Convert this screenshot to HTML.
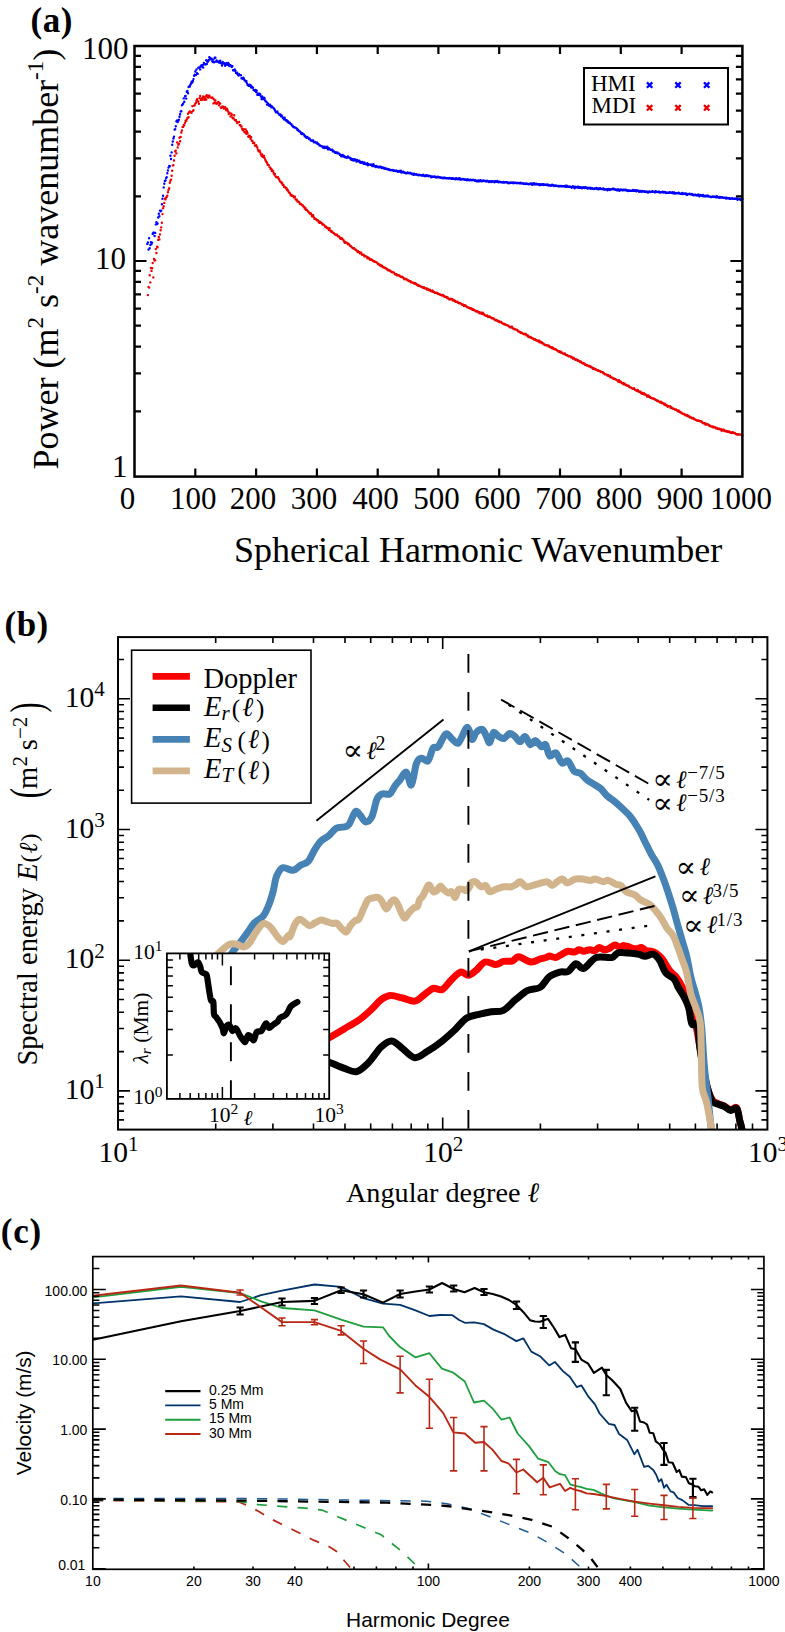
<!DOCTYPE html>
<html><head><meta charset="utf-8"><title>Figure</title>
<style>html,body{margin:0;padding:0;background:#fff;}svg{display:block;}</style></head>
<body><svg width="785" height="1632" viewBox="0 0 785 1632">
<rect width="785" height="1632" fill="#fff"/>
<text x="30.5" y="31.8" font-family="'Liberation Serif', 'DejaVu Serif', serif" font-weight="bold" font-size="35" letter-spacing="0.5">(a)</text>
<path d="M147.3 243.9h0.01M147.9 242.4h0.01M148.5 249.6h0.01M149.1 238.3h0.01M149.7 248.3h0.01M150.3 245.1h0.01M150.9 242.2h0.01M151.5 244.1h0.01M152.1 242.6h0.01M152.7 233.9h0.01M153.3 232.8h0.01M154 232.7h0.01M154.6 236h0.01M155.2 232.9h0.01M155.8 224.4h0.01M156.4 222.2h0.01M157 224.1h0.01M157.6 223.5h0.01M158.2 217.5h0.01M158.8 213.8h0.01M159.4 216.2h0.01M160 210.6h0.01M160.6 211.2h0.01M161.2 210.7h0.01M161.9 204.2h0.01M162.5 198.7h0.01M163.1 195.8h0.01M163.7 187.4h0.01M164.3 183.7h0.01M164.9 181h0.01M165.5 180.4h0.01M166.1 178.1h0.01M166.7 177.3h0.01M167.3 173.2h0.01M167.9 170.4h0.01M168.5 167.6h0.01M169.2 165.9h0.01M169.8 166.2h0.01M170.4 155.8h0.01M171 159h0.01M171.6 152.4h0.01M172.2 144.7h0.01M172.8 141.5h0.01M173.4 138.5h0.01M174 136.7h0.01M174.6 129.6h0.01M175.2 129.2h0.01M175.8 126.3h0.01M176.4 121.2h0.01M177.1 120.5h0.01M177.7 122.1h0.01M178.3 120.7h0.01M178.9 119.8h0.01M179.5 116.8h0.01M180.1 114.3h0.01M180.7 111.5h0.01M181.3 111.2h0.01M181.9 105.3h0.01M182.5 104.6h0.01M183.1 103.7h0.01M183.7 98.4h0.01M184.3 101.8h0.01M185 96.2h0.01M185.6 95.9h0.01M186.2 98.6h0.01M186.8 91.8h0.01M187.4 90.9h0.01M188 93.3h0.01M188.6 87h0.01M189.2 86.5h0.01M189.8 86.6h0.01M190.4 84.8h0.01M191 83.4h0.01M191.6 81.7h0.01M192.3 82.5h0.01M192.9 80.9h0.01M193.5 79.1h0.01M194.1 75.8h0.01M194.7 74.7h0.01M195.3 71.5h0.01M195.9 75.1h0.01M196.5 69.5h0.01M197.1 73.3h0.01M197.7 73.9h0.01M198.3 67.6h0.01M198.9 67.7h0.01M199.5 67.5h0.01M200.2 69.4h0.01M200.8 65.8h0.01M201.4 66.6h0.01M202 65.3h0.01M202.6 65.3h0.01M203.2 67.5h0.01M203.8 62.9h0.01M204.4 64.3h0.01M205 64.1h0.01M205.6 64.6h0.01M206.2 60.2h0.01M206.8 63.9h0.01M207.4 61.8h0.01M208.1 61.6h0.01M208.7 60h0.01M209.3 57.3h0.01M209.9 57.8h0.01M210.5 59.3h0.01M211.1 58.6h0.01M211.7 58.8h0.01M212.3 61.3h0.01M212.9 62h0.01M213.5 59.6h0.01M214.1 62.2h0.01M214.7 57.7h0.01M215.4 57.8h0.01M216 61.6h0.01M216.6 60.4h0.01M217.2 61.7h0.01M217.8 61.8h0.01M218.4 61.4h0.01M219 62.6h0.01M219.6 62.3h0.01M220.2 60.6h0.01M220.8 63h0.01M221.4 63.3h0.01M222 65.5h0.01M222.6 62h0.01M223.3 63.5h0.01M223.9 63h0.01M224.5 63.5h0.01M225.1 65.7h0.01M225.7 64.2h0.01M226.3 63.3h0.01M226.9 64.1h0.01M227.5 64.9h0.01M228.1 62.9h0.01M228.7 63.8h0.01M229.3 66.1h0.01M229.9 65.3h0.01M230.5 65.1h0.01M231.2 65.6h0.01M231.8 67h0.01M232.4 66.3h0.01M233 70.3h0.01M233.6 70.3h0.01M234.2 70.6h0.01M234.8 69.5h0.01M235.4 70.8h0.01M236 72.9h0.01M236.6 73.2h0.01M237.2 72.8h0.01M237.8 74.6h0.01M238.5 75.6h0.01M239.1 74.2h0.01M239.7 74.9h0.01M240.3 75.1h0.01M240.9 75.2h0.01M241.5 78.2h0.01M242.1 78.4h0.01M242.7 78.8h0.01M243.3 77.7h0.01M243.9 78.4h0.01M244.5 80.2h0.01M245.1 80.4h0.01M245.7 81.6h0.01M246.4 81.1h0.01M247 83.3h0.01M247.6 85.1h0.01M248.2 85.3h0.01M248.8 85.9h0.01M249.4 84.6h0.01M250 86.1h0.01M250.6 85.2h0.01M251.2 87.5h0.01M251.8 86.6h0.01M252.4 87.2h0.01M253 87.7h0.01M253.6 90h0.01M254.3 90.2h0.01M254.9 90.8h0.01M255.5 89.9h0.01M256.1 92h0.01M256.7 90.7h0.01M257.3 94.8h0.01M257.9 93.5h0.01M258.5 94.5h0.01M259.1 94.7h0.01M259.7 93.6h0.01M260.3 94.4h0.01M260.9 96.6h0.01M261.6 99h0.01M262.2 96.5h0.01M262.8 97.6h0.01M263.4 99h0.01M264 97.7h0.01M264.6 98.3h0.01M265.2 100.4h0.01M265.8 101.5h0.01M266.4 101.6h0.01M267 104.6h0.01M267.6 103.1h0.01M268.2 104h0.01M268.8 105.3h0.01M269.5 105.9h0.01M270.1 104.6h0.01M270.7 105.9h0.01M271.3 107.3h0.01M271.9 106.4h0.01M272.5 107.2h0.01M273.1 107.6h0.01M273.7 108.2h0.01M274.3 108.9h0.01M274.9 110.2h0.01M275.5 111.4h0.01M276.1 112.2h0.01M276.7 112h0.01M277.4 111.5h0.01M278 113.1h0.01M278.6 113.6h0.01M279.2 114.6h0.01M279.8 114.9h0.01M280.4 114.5h0.01M281 116.2h0.01M281.6 115.4h0.01M282.2 116.6h0.01M282.8 117.7h0.01M283.4 118.2h0.01M284 119.4h0.01M284.7 117.7h0.01M285.3 119.7h0.01M285.9 120.4h0.01M286.5 120.3h0.01M287.1 121.4h0.01M287.7 120.9h0.01M288.3 122.4h0.01M288.9 122.8h0.01M289.5 122.5h0.01M290.1 123.2h0.01M290.7 123.9h0.01M291.3 124.2h0.01M291.9 125.6h0.01M292.6 125.6h0.01M293.2 126.8h0.01M293.8 127.2h0.01M294.4 127.1h0.01M295 127.5h0.01M295.6 127.6h0.01M296.2 128.1h0.01M296.8 128.7h0.01M297.4 129.8h0.01M298 129.6h0.01M298.6 130.7h0.01M299.2 131.2h0.01M299.8 131.4h0.01M300.5 132.1h0.01M301.1 133.4h0.01M301.7 134h0.01M302.3 133.1h0.01M302.9 133.9h0.01M303.5 134.2h0.01M304.1 134.8h0.01M304.7 136.2h0.01M305.3 136.2h0.01M305.9 137h0.01M306.5 137.7h0.01M307.1 136.9h0.01M307.8 137.5h0.01M308.4 138h0.01M309 139h0.01M309.6 138.8h0.01M310.2 139.6h0.01M310.8 140.3h0.01M311.4 140.7h0.01M312 140.7h0.01M312.6 140.4h0.01M313.2 140.4h0.01M313.8 142.3h0.01M314.4 142.3h0.01M315 141.9h0.01M315.7 142.5h0.01M316.3 142.8h0.01M316.9 142.5h0.01M317.5 143.9h0.01M318.1 143.7h0.01M318.7 144.3h0.01M319.3 145.3h0.01M319.9 145.2h0.01M320.5 145.9h0.01M321.1 146.1h0.01M321.7 146.2h0.01M322.3 146.4h0.01M322.9 147.6h0.01M323.6 146.7h0.01M324.2 148h0.01M324.8 146.8h0.01M325.4 147.9h0.01M326 147.9h0.01M326.6 147.6h0.01M327.2 146.8h0.01M327.8 149.3h0.01M328.4 148h0.01M329 148.4h0.01M329.6 149.2h0.01M330.2 149.4h0.01M330.9 149.9h0.01M331.5 149.9h0.01M332.1 149.6h0.01M332.7 151.2h0.01M333.3 150.6h0.01M333.9 151.5h0.01M334.5 152.1h0.01M335.1 152.7h0.01M335.7 152.3h0.01M336.3 152.6h0.01M336.9 153h0.01M337.5 152.4h0.01M338.1 153.4h0.01M338.8 153.6h0.01M339.4 153.8h0.01M340 154.9h0.01M340.6 154.9h0.01M341.2 156.2h0.01M341.8 156.4h0.01M342.4 154.9h0.01M343 156.2h0.01M343.6 155.8h0.01M344.2 156.8h0.01M344.8 156.8h0.01M345.4 157.4h0.01M346 157.3h0.01M346.7 157.7h0.01M347.3 157.4h0.01M347.9 156.4h0.01M348.5 157.3h0.01M349.1 157.7h0.01M349.7 158.1h0.01M350.3 158h0.01M350.9 159.6h0.01M351.5 158.9h0.01M352.1 159.9h0.01M352.7 159.2h0.01M353.3 160.5h0.01M354 159.1h0.01M354.6 160.3h0.01M355.2 159.4h0.01M355.8 160.6h0.01M356.4 161.5h0.01M357 159.9h0.01M357.6 160.5h0.01M358.2 161.3h0.01M358.8 161.3h0.01M359.4 160.8h0.01M360 162.4h0.01M360.6 162h0.01M361.2 162.9h0.01M361.9 162.6h0.01M362.5 162h0.01M363.1 162.6h0.01M363.7 163.8h0.01M364.3 162.5h0.01M364.9 163.2h0.01M365.5 163.9h0.01M366.1 164.3h0.01M366.7 164.3h0.01M367.3 163.2h0.01M367.9 165.3h0.01M368.5 164.2h0.01M369.1 164.5h0.01M369.8 164.6h0.01M370.4 164.7h0.01M371 164.4h0.01M371.6 164.9h0.01M372.2 166h0.01M372.8 164.6h0.01M373.4 164.2h0.01M374 166h0.01M374.6 166h0.01M375.2 166.4h0.01M375.8 167.1h0.01M376.4 165.9h0.01M377.1 166.5h0.01M377.7 166.8h0.01M378.3 167.2h0.01M378.9 167.3h0.01M379.5 166.8h0.01M380.1 166.7h0.01M380.7 167.3h0.01M381.3 166.9h0.01M381.9 168.1h0.01M382.5 167.7h0.01M383.1 167.8h0.01M383.7 167.8h0.01M384.3 168.8h0.01M385 168.5h0.01M385.6 168.4h0.01M386.2 168.9h0.01M386.8 168.8h0.01M387.4 169.2h0.01M388 169.6h0.01M388.6 169.2h0.01M389.2 169.7h0.01M389.8 169.8h0.01M390.4 170.2h0.01M391 170.1h0.01M391.6 170.1h0.01M392.2 170h0.01M392.9 170.5h0.01M393.5 170.1h0.01M394.1 170.9h0.01M394.7 170.8h0.01M395.3 171h0.01M395.9 170.8h0.01M396.5 170.8h0.01M397.1 170.9h0.01M397.7 171.7h0.01M398.3 171.3h0.01M398.9 171.5h0.01M399.5 171h0.01M400.2 171.7h0.01M400.8 170.7h0.01M401.4 172.5h0.01M402 172h0.01M402.6 172.2h0.01M403.2 171.8h0.01M403.8 172.1h0.01M404.4 172.8h0.01M405 172.6h0.01M405.6 172.9h0.01M406.2 173.4h0.01M406.8 173.3h0.01M407.4 172.5h0.01M408.1 172.9h0.01M408.7 173h0.01M409.3 173.2h0.01M409.9 172.9h0.01M410.5 173h0.01M411.1 173.6h0.01M411.7 173.7h0.01M412.3 174.2h0.01M412.9 174h0.01M413.5 174.7h0.01M414.1 173.6h0.01M414.7 173.9h0.01M415.3 174.5h0.01M416 174.4h0.01M416.6 174.2h0.01M417.2 174.9h0.01M417.8 175.1h0.01M418.4 175.3h0.01M419 174.7h0.01M419.6 174.9h0.01M420.2 175.1h0.01M420.8 175.1h0.01M421.4 175.5h0.01M422 175.1h0.01M422.6 175.5h0.01M423.3 174.6h0.01M423.9 175.7h0.01M424.5 176.1h0.01M425.1 175.6h0.01M425.7 176.1h0.01M426.3 175.2h0.01M426.9 175.7h0.01M427.5 175.4h0.01M428.1 176.1h0.01M428.7 176.3h0.01M429.3 175.7h0.01M429.9 175.9h0.01M430.5 176.1h0.01M431.2 177.2h0.01M431.8 176.4h0.01M432.4 176.6h0.01M433 176.7h0.01M433.6 176.8h0.01M434.2 176.7h0.01M434.8 176.4h0.01M435.4 176.7h0.01M436 177.6h0.01M436.6 177.2h0.01M437.2 177h0.01M437.8 176.8h0.01M438.4 177.3h0.01M439.1 177.4h0.01M439.7 177.2h0.01M440.3 177.8h0.01M440.9 177.4h0.01M441.5 177.6h0.01M442.1 178h0.01M442.7 177.8h0.01M443.3 178.2h0.01M443.9 177.7h0.01M444.5 177.7h0.01M445.1 178.1h0.01M445.7 178h0.01M446.4 178.4h0.01M447 178.2h0.01M447.6 178.1h0.01M448.2 178.3h0.01M448.8 178.5h0.01M449.4 177.9h0.01M450 178.3h0.01M450.6 178.3h0.01M451.2 178.8h0.01M451.8 178.3h0.01M452.4 178.9h0.01M453 178.1h0.01M453.6 178.6h0.01M454.3 179h0.01M454.9 178.6h0.01M455.5 179.2h0.01M456.1 178.1h0.01M456.7 178.9h0.01M457.3 179h0.01M457.9 178.9h0.01M458.5 178.5h0.01M459.1 179.3h0.01M459.7 178.3h0.01M460.3 179.5h0.01M460.9 179.3h0.01M461.6 179.6h0.01M462.2 179.2h0.01M462.8 179h0.01M463.4 179.2h0.01M464 179.3h0.01M464.6 179.7h0.01M465.2 179.5h0.01M465.8 179.8h0.01M466.4 179.8h0.01M467 180.2h0.01M467.6 179.1h0.01M468.2 179.7h0.01M468.8 180.1h0.01M469.5 180.2h0.01M470.1 179.8h0.01M470.7 179.9h0.01M471.3 180h0.01M471.9 180.2h0.01M472.5 180h0.01M473.1 180h0.01M473.7 179.9h0.01M474.3 180.2h0.01M474.9 180.8h0.01M475.5 180.1h0.01M476.1 180.8h0.01M476.7 181.2h0.01M477.4 180.6h0.01M478 181.4h0.01M478.6 180.5h0.01M479.2 181.2h0.01M479.8 180.7h0.01M480.4 180.3h0.01M481 180.9h0.01M481.6 181.4h0.01M482.2 180.6h0.01M482.8 181h0.01M483.4 180.5h0.01M484 180.6h0.01M484.7 181.1h0.01M485.3 180.9h0.01M485.9 181.2h0.01M486.5 181.5h0.01M487.1 180.7h0.01M487.7 180.9h0.01M488.3 181.2h0.01M488.9 182h0.01M489.5 181.2h0.01M490.1 181.1h0.01M490.7 181.5h0.01M491.3 182.1h0.01M491.9 181.2h0.01M492.6 181.4h0.01M493.2 181.5h0.01M493.8 181.8h0.01M494.4 182.3h0.01M495 181.2h0.01M495.6 181.1h0.01M496.2 181.8h0.01M496.8 181.9h0.01M497.4 181h0.01M498 181.6h0.01M498.6 182.2h0.01M499.2 181.7h0.01M499.8 182.1h0.01M500.5 182h0.01M501.1 182.2h0.01M501.7 182.2h0.01M502.3 182.2h0.01M502.9 182.6h0.01M503.5 182h0.01M504.1 182.2h0.01M504.7 182.6h0.01M505.3 182.1h0.01M505.9 182.2h0.01M506.5 182.1h0.01M507.1 182.1h0.01M507.8 183.1h0.01M508.4 182.6h0.01M509 183.2h0.01M509.6 182.8h0.01M510.2 182.6h0.01M510.8 182.5h0.01M511.4 182.7h0.01M512 182.7h0.01M512.6 183h0.01M513.2 182.5h0.01M513.8 182.9h0.01M514.4 183h0.01M515 182.8h0.01M515.7 182.8h0.01M516.3 183.1h0.01M516.9 183.2h0.01M517.5 183h0.01M518.1 183.1h0.01M518.7 182.9h0.01M519.3 183.3h0.01M519.9 183.1h0.01M520.5 182.7h0.01M521.1 183.2h0.01M521.7 183.5h0.01M522.3 183.4h0.01M522.9 183.1h0.01M523.6 183.7h0.01M524.2 183.7h0.01M524.8 183.7h0.01M525.4 184.1h0.01M526 183.5h0.01M526.6 183.8h0.01M527.2 183.6h0.01M527.8 184.1h0.01M528.4 184.2h0.01M529 184h0.01M529.6 184.1h0.01M530.2 183.6h0.01M530.9 184.1h0.01M531.5 183.5h0.01M532.1 184.7h0.01M532.7 184.4h0.01M533.3 183.5h0.01M533.9 183.2h0.01M534.5 184.6h0.01M535.1 183.9h0.01M535.7 184.4h0.01M536.3 183.8h0.01M536.9 184.3h0.01M537.5 184.1h0.01M538.1 184.6h0.01M538.8 184.3h0.01M539.4 185h0.01M540 184.2h0.01M540.6 185h0.01M541.2 184.6h0.01M541.8 184.8h0.01M542.4 184.1h0.01M543 184.1h0.01M543.6 185.1h0.01M544.2 184.4h0.01M544.8 184.7h0.01M545.4 184.8h0.01M546 184.6h0.01M546.7 185.1h0.01M547.3 184.5h0.01M547.9 184.7h0.01M548.5 185.5h0.01M549.1 184.9h0.01M549.7 185.5h0.01M550.3 185.5h0.01M550.9 185.8h0.01M551.5 185.5h0.01M552.1 184.8h0.01M552.7 185.2h0.01M553.3 185.3h0.01M554 186h0.01M554.6 185.7h0.01M555.2 185.5h0.01M555.8 185.8h0.01M556.4 185.6h0.01M557 185.9h0.01M557.6 185.9h0.01M558.2 186.2h0.01M558.8 186h0.01M559.4 186.3h0.01M560 186h0.01M560.6 186.3h0.01M561.2 186h0.01M561.9 186.3h0.01M562.5 186.2h0.01M563.1 186.2h0.01M563.7 186.1h0.01M564.3 186.2h0.01M564.9 186.5h0.01M565.5 185.6h0.01M566.1 186.9h0.01M566.7 185.6h0.01M567.3 186.5h0.01M567.9 186.5h0.01M568.5 186.9h0.01M569.1 186.7h0.01M569.8 186.7h0.01M570.4 186.8h0.01M571 187.1h0.01M571.6 187.7h0.01M572.2 187h0.01M572.8 186.2h0.01M573.4 186.8h0.01M574 187.2h0.01M574.6 188.2h0.01M575.2 186.8h0.01M575.8 187h0.01M576.4 187.4h0.01M577.1 187.4h0.01M577.7 186.8h0.01M578.3 187.7h0.01M578.9 186.9h0.01M579.5 187.3h0.01M580.1 187.9h0.01M580.7 187.1h0.01M581.3 187.4h0.01M581.9 188.2h0.01M582.5 187.6h0.01M583.1 187.3h0.01M583.7 187.5h0.01M584.3 188.1h0.01M585 187.3h0.01M585.6 187.7h0.01M586.2 187.4h0.01M586.8 187.6h0.01M587.4 188.5h0.01M588 188h0.01M588.6 187.9h0.01M589.2 188.3h0.01M589.8 187.9h0.01M590.4 187.8h0.01M591 188.7h0.01M591.6 188.6h0.01M592.2 188.1h0.01M592.9 188.7h0.01M593.5 189h0.01M594.1 188.7h0.01M594.7 188.7h0.01M595.3 188.2h0.01M595.9 188.6h0.01M596.5 188h0.01M597.1 189.1h0.01M597.7 188.7h0.01M598.3 189.2h0.01M598.9 188.5h0.01M599.5 189.1h0.01M600.2 188.3h0.01M600.8 188.8h0.01M601.4 189.1h0.01M602 189.1h0.01M602.6 189h0.01M603.2 188.5h0.01M603.8 189.5h0.01M604.4 189.3h0.01M605 189.5h0.01M605.6 189.6h0.01M606.2 189.1h0.01M606.8 189.4h0.01M607.4 190.2h0.01M608.1 189h0.01M608.7 189.5h0.01M609.3 189.2h0.01M609.9 190h0.01M610.5 189.5h0.01M611.1 189.1h0.01M611.7 189.3h0.01M612.3 189h0.01M612.9 188.8h0.01M613.5 188.6h0.01M614.1 189.4h0.01M614.7 189.3h0.01M615.3 189.8h0.01M616 189.4h0.01M616.6 189.9h0.01M617.2 190.4h0.01M617.8 189.4h0.01M618.4 189.4h0.01M619 190.3h0.01M619.6 190.8h0.01M620.2 189.7h0.01M620.8 189.4h0.01M621.4 189.9h0.01M622 189.9h0.01M622.6 190.4h0.01M623.3 189.8h0.01M623.9 190.1h0.01M624.5 190.1h0.01M625.1 189.7h0.01M625.7 189.7h0.01M626.3 190.5h0.01M626.9 190.5h0.01M627.5 190.1h0.01M628.1 191h0.01M628.7 190.8h0.01M629.3 190.6h0.01M629.9 190.7h0.01M630.5 190.7h0.01M631.2 190.8h0.01M631.8 190.9h0.01M632.4 190.7h0.01M633 190h0.01M633.6 190.7h0.01M634.2 190.5h0.01M634.8 190.4h0.01M635.4 191h0.01M636 190.2h0.01M636.6 191.2h0.01M637.2 190.7h0.01M637.8 190.5h0.01M638.4 190.7h0.01M639.1 191.8h0.01M639.7 191.6h0.01M640.3 191h0.01M640.9 191.5h0.01M641.5 191.8h0.01M642.1 190.9h0.01M642.7 191.1h0.01M643.3 191.6h0.01M643.9 191.4h0.01M644.5 191.2h0.01M645.1 191.9h0.01M645.7 191.6h0.01M646.4 191.7h0.01M647 192.3h0.01M647.6 191.7h0.01M648.2 192.5h0.01M648.8 191.7h0.01M649.4 191.5h0.01M650 191.7h0.01M650.6 192h0.01M651.2 191.9h0.01M651.8 191.9h0.01M652.4 191.2h0.01M653 191.4h0.01M653.6 191.7h0.01M654.3 192.1h0.01M654.9 192.4h0.01M655.5 191.1h0.01M656.1 191.9h0.01M656.7 191.8h0.01M657.3 192h0.01M657.9 192.1h0.01M658.5 191.8h0.01M659.1 191.7h0.01M659.7 192.5h0.01M660.3 192.5h0.01M660.9 192.1h0.01M661.5 192.2h0.01M662.2 192h0.01M662.8 191.8h0.01M663.4 192.6h0.01M664 192.2h0.01M664.6 192h0.01M665.2 192.2h0.01M665.8 193.1h0.01M666.4 192.7h0.01M667 192.6h0.01M667.6 192.6h0.01M668.2 192.9h0.01M668.8 192.9h0.01M669.5 192.2h0.01M670.1 192.6h0.01M670.7 192.5h0.01M671.3 192.9h0.01M671.9 192.8h0.01M672.5 192.1h0.01M673.1 193.3h0.01M673.7 193.1h0.01M674.3 192.4h0.01M674.9 193.5h0.01M675.5 193.2h0.01M676.1 193.4h0.01M676.7 193.3h0.01M677.4 193.4h0.01M678 193.2h0.01M678.6 192.8h0.01M679.2 193.2h0.01M679.8 193.6h0.01M680.4 193.6h0.01M681 193.9h0.01M681.6 193.7h0.01M682.2 192.9h0.01M682.8 194.1h0.01M683.4 193.6h0.01M684 193.4h0.01M684.6 193.9h0.01M685.3 193.5h0.01M685.9 194.2h0.01M686.5 193.8h0.01M687.1 194.9h0.01M687.7 194.2h0.01M688.3 194.1h0.01M688.9 194.1h0.01M689.5 193.7h0.01M690.1 194.2h0.01M690.7 194.3h0.01M691.3 194.5h0.01M691.9 193.9h0.01M692.6 194.7h0.01M693.2 195.2h0.01M693.8 194.7h0.01M694.4 194.9h0.01M695 195.1h0.01M695.6 194.7h0.01M696.2 194.9h0.01M696.8 195.5h0.01M697.4 195.2h0.01M698 194.8h0.01M698.6 194.7h0.01M699.2 196.2h0.01M699.8 195.6h0.01M700.5 194.9h0.01M701.1 195.6h0.01M701.7 195.8h0.01M702.3 195.7h0.01M702.9 195h0.01M703.5 196.4h0.01M704.1 196h0.01M704.7 195.8h0.01M705.3 196.2h0.01M705.9 195.9h0.01M706.5 195.9h0.01M707.1 196.4h0.01M707.7 195.5h0.01M708.4 196.6h0.01M709 196.4h0.01M709.6 196.6h0.01M710.2 196.7h0.01M710.8 197h0.01M711.4 197h0.01M712 196.9h0.01M712.6 196.5h0.01M713.2 196.9h0.01M713.8 196.6h0.01M714.4 196.5h0.01M715 197h0.01M715.7 197h0.01M716.3 197.4h0.01M716.9 196.3h0.01M717.5 197.3h0.01M718.1 197.4h0.01M718.7 197.2h0.01M719.3 197.8h0.01M719.9 197h0.01M720.5 197.5h0.01M721.1 197.3h0.01M721.7 197.5h0.01M722.3 197.2h0.01M722.9 197.6h0.01M723.6 197.9h0.01M724.2 197.8h0.01M724.8 197.9h0.01M725.4 197.6h0.01M726 198.5h0.01M726.6 197.7h0.01M727.2 198h0.01M727.8 198.3h0.01M728.4 198.1h0.01M729 198.5h0.01M729.6 198.3h0.01M730.2 198.9h0.01M730.8 198.6h0.01M731.5 198.6h0.01M732.1 198.2h0.01M732.7 198.7h0.01M733.3 198.9h0.01M733.9 198.8h0.01M734.5 198.4h0.01M735.1 198.6h0.01M735.7 198.7h0.01M736.3 198.9h0.01M736.9 198.4h0.01M737.5 199.7h0.01M738.1 199h0.01M738.8 199.1h0.01M739.4 199h0.01M740 199.2h0.01M740.6 200h0.01M741.2 199h0.01M741.8 199.1h0.01M742.4 198.9h0.01" stroke="#0000ff" stroke-width="2.4" stroke-linecap="round" fill="none"/>
<path d="M147.9 295.1h0.01M148.5 287h0.01M149.1 287.6h0.01M149.7 275.2h0.01M150.3 282.4h0.01M150.9 268h0.01M151.5 270.9h0.01M152.1 268.2h0.01M152.7 263h0.01M153.3 277.4h0.01M154 259h0.01M154.6 260.6h0.01M155.2 260.2h0.01M155.8 249.1h0.01M156.4 253h0.01M157 246.8h0.01M157.6 247.2h0.01M158.2 239.9h0.01M158.8 237h0.01M159.4 239.4h0.01M160 234.4h0.01M160.6 230.2h0.01M161.2 227.4h0.01M161.9 222.7h0.01M162.5 214.1h0.01M163.1 208.2h0.01M163.7 206.3h0.01M164.3 202.9h0.01M164.9 198.6h0.01M165.5 199.4h0.01M166.1 197.7h0.01M166.7 197h0.01M167.3 195.6h0.01M167.9 192.2h0.01M168.5 190h0.01M169.2 188.2h0.01M169.8 182.8h0.01M170.4 180.8h0.01M171 179.8h0.01M171.6 175.8h0.01M172.2 170.7h0.01M172.8 165.4h0.01M173.4 165.2h0.01M174 160.5h0.01M174.6 155.7h0.01M175.2 151.4h0.01M175.8 150.6h0.01M176.4 153.4h0.01M177.1 142.4h0.01M177.7 147.4h0.01M178.3 144.7h0.01M178.9 143.7h0.01M179.5 137.8h0.01M180.1 141.3h0.01M180.7 136.9h0.01M181.3 132.5h0.01M181.9 130.5h0.01M182.5 127.1h0.01M183.1 126.9h0.01M183.7 125h0.01M184.3 125.3h0.01M185 122.7h0.01M185.6 120.6h0.01M186.2 120.9h0.01M186.8 119.6h0.01M187.4 118h0.01M188 113.7h0.01M188.6 117.3h0.01M189.2 112.3h0.01M189.8 111.5h0.01M190.4 112.1h0.01M191 112.2h0.01M191.6 112.8h0.01M192.3 106.1h0.01M192.9 110.9h0.01M193.5 110.3h0.01M194.1 105.6h0.01M194.7 105.2h0.01M195.3 103.6h0.01M195.9 102.7h0.01M196.5 100.5h0.01M197.1 99.2h0.01M197.7 101.3h0.01M198.3 101.5h0.01M198.9 103.8h0.01M199.5 98.1h0.01M200.2 95.9h0.01M200.8 99.8h0.01M201.4 98.5h0.01M202 99.8h0.01M202.6 98.3h0.01M203.2 96.5h0.01M203.8 97.4h0.01M204.4 99.9h0.01M205 98.8h0.01M205.6 96.4h0.01M206.2 99.5h0.01M206.8 95.1h0.01M207.4 96.9h0.01M208.1 97.6h0.01M208.7 95.6h0.01M209.3 95.6h0.01M209.9 97.1h0.01M210.5 97.4h0.01M211.1 97.6h0.01M211.7 97.7h0.01M212.3 97.5h0.01M212.9 98.4h0.01M213.5 103.4h0.01M214.1 99.5h0.01M214.7 102.5h0.01M215.4 100.5h0.01M216 103.4h0.01M216.6 103.7h0.01M217.2 103.2h0.01M217.8 102.4h0.01M218.4 102h0.01M219 105.3h0.01M219.6 103.1h0.01M220.2 103.6h0.01M220.8 107.5h0.01M221.4 107.9h0.01M222 106.6h0.01M222.6 106.8h0.01M223.3 106.8h0.01M223.9 108.5h0.01M224.5 108h0.01M225.1 107.2h0.01M225.7 108.6h0.01M226.3 110.3h0.01M226.9 108.6h0.01M227.5 109.8h0.01M228.1 111.6h0.01M228.7 114h0.01M229.3 112.8h0.01M229.9 113.4h0.01M230.5 116.4h0.01M231.2 113.6h0.01M231.8 114.8h0.01M232.4 117.4h0.01M233 118.4h0.01M233.6 118.3h0.01M234.2 115.3h0.01M234.8 119.9h0.01M235.4 120.4h0.01M236 120.3h0.01M236.6 121.6h0.01M237.2 123.1h0.01M237.8 122.4h0.01M238.5 122.1h0.01M239.1 122h0.01M239.7 125.1h0.01M240.3 125.1h0.01M240.9 126.2h0.01M241.5 126.4h0.01M242.1 128.7h0.01M242.7 130h0.01M243.3 130.3h0.01M243.9 129.1h0.01M244.5 132.2h0.01M245.1 132.2h0.01M245.7 129.5h0.01M246.4 133.9h0.01M247 131.4h0.01M247.6 133.2h0.01M248.2 136.5h0.01M248.8 136.7h0.01M249.4 135.8h0.01M250 136.2h0.01M250.6 138.7h0.01M251.2 137.1h0.01M251.8 140.7h0.01M252.4 140.9h0.01M253 143.1h0.01M253.6 143h0.01M254.3 142.9h0.01M254.9 145.4h0.01M255.5 145.7h0.01M256.1 145.3h0.01M256.7 146.5h0.01M257.3 147.5h0.01M257.9 149.6h0.01M258.5 151.3h0.01M259.1 151.2h0.01M259.7 150.6h0.01M260.3 152.4h0.01M260.9 154.4h0.01M261.6 155.9h0.01M262.2 154.4h0.01M262.8 156.9h0.01M263.4 157.1h0.01M264 155.9h0.01M264.6 157.9h0.01M265.2 159.8h0.01M265.8 160.8h0.01M266.4 162h0.01M267 162.7h0.01M267.6 164.7h0.01M268.2 164.6h0.01M268.8 165.1h0.01M269.5 167.1h0.01M270.1 167.4h0.01M270.7 169h0.01M271.3 169h0.01M271.9 171h0.01M272.5 170.4h0.01M273.1 171.3h0.01M273.7 173.2h0.01M274.3 174.6h0.01M274.9 174h0.01M275.5 176.1h0.01M276.1 176.9h0.01M276.7 177.3h0.01M277.4 177.5h0.01M278 177.3h0.01M278.6 178.4h0.01M279.2 179.6h0.01M279.8 181.2h0.01M280.4 181.5h0.01M281 182h0.01M281.6 183.2h0.01M282.2 183h0.01M282.8 184.9h0.01M283.4 184.9h0.01M284 186.9h0.01M284.7 187h0.01M285.3 187.3h0.01M285.9 188.2h0.01M286.5 188.3h0.01M287.1 190h0.01M287.7 190h0.01M288.3 191.2h0.01M288.9 192.5h0.01M289.5 192.7h0.01M290.1 193.5h0.01M290.7 195.3h0.01M291.3 194.9h0.01M291.9 195.8h0.01M292.6 195.7h0.01M293.2 195.9h0.01M293.8 197.3h0.01M294.4 197.1h0.01M295 196.7h0.01M295.6 199.3h0.01M296.2 199.8h0.01M296.8 199.6h0.01M297.4 201.5h0.01M298 201.4h0.01M298.6 201.8h0.01M299.2 202.1h0.01M299.8 203.9h0.01M300.5 203.6h0.01M301.1 204.2h0.01M301.7 204.8h0.01M302.3 205.2h0.01M302.9 205.4h0.01M303.5 206.5h0.01M304.1 207h0.01M304.7 208.5h0.01M305.3 208h0.01M305.9 209.7h0.01M306.5 209.6h0.01M307.1 210.1h0.01M307.8 211.1h0.01M308.4 211.8h0.01M309 212.4h0.01M309.6 213.3h0.01M310.2 213.7h0.01M310.8 213.3h0.01M311.4 214.4h0.01M312 216.3h0.01M312.6 215.9h0.01M313.2 215.3h0.01M313.8 217.3h0.01M314.4 218.7h0.01M315 218.9h0.01M315.7 218.8h0.01M316.3 219.4h0.01M316.9 220.2h0.01M317.5 220.2h0.01M318.1 220.5h0.01M318.7 222.2h0.01M319.3 221.6h0.01M319.9 222.9h0.01M320.5 222h0.01M321.1 222.9h0.01M321.7 223.1h0.01M322.3 224.5h0.01M322.9 224.3h0.01M323.6 224.8h0.01M324.2 225.1h0.01M324.8 226.1h0.01M325.4 227h0.01M326 226.6h0.01M326.6 227.8h0.01M327.2 227.9h0.01M327.8 228h0.01M328.4 229h0.01M329 230h0.01M329.6 228.3h0.01M330.2 230.5h0.01M330.9 231.6h0.01M331.5 231h0.01M332.1 232h0.01M332.7 232.5h0.01M333.3 232.7h0.01M333.9 233.1h0.01M334.5 234.1h0.01M335.1 234.5h0.01M335.7 234.4h0.01M336.3 235.1h0.01M336.9 234.7h0.01M337.5 235.6h0.01M338.1 236.2h0.01M338.8 236.6h0.01M339.4 236.7h0.01M340 238.2h0.01M340.6 238.2h0.01M341.2 238.9h0.01M341.8 238.3h0.01M342.4 239.2h0.01M343 239.6h0.01M343.6 240.3h0.01M344.2 241.8h0.01M344.8 242.8h0.01M345.4 242h0.01M346 242.5h0.01M346.7 242.7h0.01M347.3 243h0.01M347.9 244.2h0.01M348.5 244h0.01M349.1 244.1h0.01M349.7 245.5h0.01M350.3 245.6h0.01M350.9 246.3h0.01M351.5 246.8h0.01M352.1 247.6h0.01M352.7 247.9h0.01M353.3 248.5h0.01M354 248.3h0.01M354.6 248.8h0.01M355.2 249.5h0.01M355.8 249.8h0.01M356.4 250.4h0.01M357 250.7h0.01M357.6 252.1h0.01M358.2 251.3h0.01M358.8 252.1h0.01M359.4 252.3h0.01M360 253.4h0.01M360.6 252.7h0.01M361.2 252.8h0.01M361.9 254.6h0.01M362.5 254.8h0.01M363.1 254.9h0.01M363.7 254.8h0.01M364.3 256.3h0.01M364.9 256.3h0.01M365.5 256.1h0.01M366.1 256.5h0.01M366.7 256.8h0.01M367.3 258.3h0.01M367.9 257.8h0.01M368.5 257.7h0.01M369.1 258.3h0.01M369.8 259.6h0.01M370.4 259.7h0.01M371 259.3h0.01M371.6 259.4h0.01M372.2 260.1h0.01M372.8 260.9h0.01M373.4 260.9h0.01M374 261.2h0.01M374.6 261.9h0.01M375.2 261.9h0.01M375.8 262h0.01M376.4 262.2h0.01M377.1 262.8h0.01M377.7 263.4h0.01M378.3 264.2h0.01M378.9 264.5h0.01M379.5 264.5h0.01M380.1 265.5h0.01M380.7 265.1h0.01M381.3 266.2h0.01M381.9 265.8h0.01M382.5 266.5h0.01M383.1 267.3h0.01M383.7 267.6h0.01M384.3 267.4h0.01M385 268h0.01M385.6 268h0.01M386.2 268.6h0.01M386.8 269.2h0.01M387.4 269.2h0.01M388 270.2h0.01M388.6 270.2h0.01M389.2 270.6h0.01M389.8 270.5h0.01M390.4 271h0.01M391 271.4h0.01M391.6 272h0.01M392.2 272.2h0.01M392.9 272.2h0.01M393.5 272.4h0.01M394.1 272.6h0.01M394.7 274.1h0.01M395.3 274.1h0.01M395.9 274.5h0.01M396.5 274.3h0.01M397.1 275.4h0.01M397.7 275.2h0.01M398.3 275.4h0.01M398.9 275.5h0.01M399.5 275.5h0.01M400.2 276.5h0.01M400.8 276.7h0.01M401.4 277h0.01M402 276.8h0.01M402.6 276.9h0.01M403.2 277.6h0.01M403.8 278.6h0.01M404.4 279.3h0.01M405 278.7h0.01M405.6 279.1h0.01M406.2 278.9h0.01M406.8 279.4h0.01M407.4 280.2h0.01M408.1 280.1h0.01M408.7 280.7h0.01M409.3 281.3h0.01M409.9 281.1h0.01M410.5 281.1h0.01M411.1 282.4h0.01M411.7 282.3h0.01M412.3 282.4h0.01M412.9 282.8h0.01M413.5 282.9h0.01M414.1 283.5h0.01M414.7 283h0.01M415.3 283.8h0.01M416 283.7h0.01M416.6 284.4h0.01M417.2 284.9h0.01M417.8 284.9h0.01M418.4 285.9h0.01M419 285.6h0.01M419.6 285.6h0.01M420.2 286.3h0.01M420.8 286.5h0.01M421.4 286.8h0.01M422 287h0.01M422.6 287.2h0.01M423.3 287.9h0.01M423.9 287.2h0.01M424.5 288.3h0.01M425.1 288.1h0.01M425.7 288.5h0.01M426.3 288.5h0.01M426.9 289.5h0.01M427.5 288.6h0.01M428.1 289.1h0.01M428.7 289.7h0.01M429.3 290.3h0.01M429.9 289.8h0.01M430.5 290.7h0.01M431.2 291.2h0.01M431.8 290.8h0.01M432.4 290.4h0.01M433 291.8h0.01M433.6 291.8h0.01M434.2 292h0.01M434.8 292.7h0.01M435.4 292.9h0.01M436 292.6h0.01M436.6 293.1h0.01M437.2 293h0.01M437.8 293.8h0.01M438.4 293.8h0.01M439.1 294.3h0.01M439.7 294.1h0.01M440.3 294.7h0.01M440.9 295h0.01M441.5 295.3h0.01M442.1 295.4h0.01M442.7 294.9h0.01M443.3 296.1h0.01M443.9 295.7h0.01M444.5 296.8h0.01M445.1 296.6h0.01M445.7 296.9h0.01M446.4 296.9h0.01M447 298h0.01M447.6 297.4h0.01M448.2 298.4h0.01M448.8 298.8h0.01M449.4 299.5h0.01M450 299.2h0.01M450.6 298.9h0.01M451.2 298.9h0.01M451.8 299.2h0.01M452.4 299.2h0.01M453 300.5h0.01M453.6 300.5h0.01M454.3 300.2h0.01M454.9 301.2h0.01M455.5 301.2h0.01M456.1 301.9h0.01M456.7 301.9h0.01M457.3 301.7h0.01M457.9 302.4h0.01M458.5 303h0.01M459.1 303h0.01M459.7 303.3h0.01M460.3 303.1h0.01M460.9 303.6h0.01M461.6 304.1h0.01M462.2 304.7h0.01M462.8 304.5h0.01M463.4 304.9h0.01M464 306h0.01M464.6 305.2h0.01M465.2 305.8h0.01M465.8 305.8h0.01M466.4 306.4h0.01M467 307h0.01M467.6 307.3h0.01M468.2 307.4h0.01M468.8 308h0.01M469.5 307.9h0.01M470.1 308.4h0.01M470.7 308.1h0.01M471.3 309.1h0.01M471.9 308.8h0.01M472.5 309.8h0.01M473.1 309.2h0.01M473.7 310h0.01M474.3 310.3h0.01M474.9 310.6h0.01M475.5 310.7h0.01M476.1 311.6h0.01M476.7 311.4h0.01M477.4 311.2h0.01M478 311.7h0.01M478.6 312.6h0.01M479.2 312.1h0.01M479.8 313.3h0.01M480.4 312.8h0.01M481 312.6h0.01M481.6 313.8h0.01M482.2 313.4h0.01M482.8 312.7h0.01M483.4 314.3h0.01M484 314.1h0.01M484.7 314.9h0.01M485.3 315.4h0.01M485.9 315.7h0.01M486.5 315.6h0.01M487.1 315.4h0.01M487.7 316.7h0.01M488.3 316.5h0.01M488.9 316.8h0.01M489.5 316.5h0.01M490.1 317.1h0.01M490.7 317.6h0.01M491.3 317.8h0.01M491.9 318.2h0.01M492.6 318.1h0.01M493.2 318.1h0.01M493.8 319.1h0.01M494.4 319.2h0.01M495 319.9h0.01M495.6 320.2h0.01M496.2 320h0.01M496.8 320.2h0.01M497.4 321.1h0.01M498 321.2h0.01M498.6 320.9h0.01M499.2 322.1h0.01M499.8 321.9h0.01M500.5 322h0.01M501.1 321.9h0.01M501.7 322.6h0.01M502.3 323.2h0.01M502.9 323.4h0.01M503.5 324.1h0.01M504.1 324.3h0.01M504.7 323.9h0.01M505.3 324.5h0.01M505.9 324.7h0.01M506.5 324.9h0.01M507.1 325.2h0.01M507.8 325.4h0.01M508.4 325.7h0.01M509 326.4h0.01M509.6 326.8h0.01M510.2 327.4h0.01M510.8 327h0.01M511.4 327.4h0.01M512 326.8h0.01M512.6 328.2h0.01M513.2 328.6h0.01M513.8 328.6h0.01M514.4 329.2h0.01M515 329.2h0.01M515.7 329.5h0.01M516.3 329.6h0.01M516.9 330h0.01M517.5 330h0.01M518.1 331.4h0.01M518.7 331.6h0.01M519.3 331.6h0.01M519.9 331.9h0.01M520.5 332.7h0.01M521.1 332.7h0.01M521.7 332.6h0.01M522.3 333.2h0.01M522.9 333.6h0.01M523.6 333.9h0.01M524.2 334.2h0.01M524.8 333.8h0.01M525.4 334.4h0.01M526 334.3h0.01M526.6 335.4h0.01M527.2 335.5h0.01M527.8 335.5h0.01M528.4 337h0.01M529 336.9h0.01M529.6 336.6h0.01M530.2 337.4h0.01M530.9 337.2h0.01M531.5 338h0.01M532.1 338.3h0.01M532.7 338.1h0.01M533.3 338.8h0.01M533.9 339.5h0.01M534.5 339.6h0.01M535.1 339.1h0.01M535.7 339.9h0.01M536.3 340.4h0.01M536.9 340.5h0.01M537.5 341.1h0.01M538.1 340.8h0.01M538.8 340.5h0.01M539.4 342.2h0.01M540 341.5h0.01M540.6 342.2h0.01M541.2 342h0.01M541.8 343.1h0.01M542.4 342.7h0.01M543 343.5h0.01M543.6 343.7h0.01M544.2 344.5h0.01M544.8 345h0.01M545.4 344.9h0.01M546 345.3h0.01M546.7 345.3h0.01M547.3 345.6h0.01M547.9 345.5h0.01M548.5 346.3h0.01M549.1 345.7h0.01M549.7 347h0.01M550.3 347h0.01M550.9 347.3h0.01M551.5 348h0.01M552.1 347.2h0.01M552.7 347.8h0.01M553.3 348.7h0.01M554 348.6h0.01M554.6 349.3h0.01M555.2 349.3h0.01M555.8 349.2h0.01M556.4 350.1h0.01M557 350.3h0.01M557.6 350.7h0.01M558.2 351h0.01M558.8 351.9h0.01M559.4 351.1h0.01M560 351.5h0.01M560.6 352.6h0.01M561.2 352h0.01M561.9 352.7h0.01M562.5 353.3h0.01M563.1 353.4h0.01M563.7 353.7h0.01M564.3 353.8h0.01M564.9 353.5h0.01M565.5 354.7h0.01M566.1 355h0.01M566.7 355.2h0.01M567.3 355.2h0.01M567.9 355.7h0.01M568.5 356.2h0.01M569.1 356.1h0.01M569.8 356.4h0.01M570.4 356.4h0.01M571 357.3h0.01M571.6 357h0.01M572.2 357.6h0.01M572.8 358.5h0.01M573.4 357.6h0.01M574 358.3h0.01M574.6 359.2h0.01M575.2 359.1h0.01M575.8 359.9h0.01M576.4 359.4h0.01M577.1 359.8h0.01M577.7 360.8h0.01M578.3 360.4h0.01M578.9 361h0.01M579.5 361.2h0.01M580.1 362.1h0.01M580.7 361.5h0.01M581.3 362.2h0.01M581.9 362.8h0.01M582.5 363.3h0.01M583.1 363.2h0.01M583.7 363.7h0.01M584.3 363.5h0.01M585 364.7h0.01M585.6 364.5h0.01M586.2 364.9h0.01M586.8 365.6h0.01M587.4 365.3h0.01M588 365.6h0.01M588.6 366.1h0.01M589.2 366.6h0.01M589.8 366h0.01M590.4 366.2h0.01M591 367.3h0.01M591.6 367.3h0.01M592.2 367.7h0.01M592.9 368.7h0.01M593.5 368.2h0.01M594.1 368.6h0.01M594.7 369.3h0.01M595.3 368.9h0.01M595.9 369.6h0.01M596.5 369.7h0.01M597.1 370.2h0.01M597.7 370.5h0.01M598.3 370.3h0.01M598.9 370.9h0.01M599.5 371.1h0.01M600.2 371.2h0.01M600.8 372.1h0.01M601.4 372h0.01M602 372.1h0.01M602.6 372.3h0.01M603.2 373h0.01M603.8 373h0.01M604.4 373.9h0.01M605 374.4h0.01M605.6 374.2h0.01M606.2 374.4h0.01M606.8 374.8h0.01M607.4 375.5h0.01M608.1 375.3h0.01M608.7 376.1h0.01M609.3 376h0.01M609.9 375.7h0.01M610.5 377.4h0.01M611.1 377.4h0.01M611.7 377.4h0.01M612.3 377.8h0.01M612.9 378.1h0.01M613.5 378.9h0.01M614.1 378.5h0.01M614.7 379.1h0.01M615.3 379.2h0.01M616 379.4h0.01M616.6 380.1h0.01M617.2 380.4h0.01M617.8 380.4h0.01M618.4 381.7h0.01M619 380.2h0.01M619.6 382h0.01M620.2 381.4h0.01M620.8 381.8h0.01M621.4 382.6h0.01M622 383.1h0.01M622.6 383.5h0.01M623.3 382.9h0.01M623.9 384.4h0.01M624.5 383.6h0.01M625.1 384.4h0.01M625.7 385.1h0.01M626.3 385h0.01M626.9 385.2h0.01M627.5 385.9h0.01M628.1 385.9h0.01M628.7 385.8h0.01M629.3 386.9h0.01M629.9 387.2h0.01M630.5 387.4h0.01M631.2 387.6h0.01M631.8 388.2h0.01M632.4 388.4h0.01M633 388.8h0.01M633.6 388.9h0.01M634.2 388.3h0.01M634.8 389.6h0.01M635.4 389.9h0.01M636 390.3h0.01M636.6 390.8h0.01M637.2 390.1h0.01M637.8 389.9h0.01M638.4 391.6h0.01M639.1 391.8h0.01M639.7 391.8h0.01M640.3 391.7h0.01M640.9 393.1h0.01M641.5 392.6h0.01M642.1 393.8h0.01M642.7 393.5h0.01M643.3 394.1h0.01M643.9 393.1h0.01M644.5 394.5h0.01M645.1 394.3h0.01M645.7 394.4h0.01M646.4 395.1h0.01M647 396.5h0.01M647.6 395.6h0.01M648.2 395.5h0.01M648.8 396.8h0.01M649.4 396.4h0.01M650 397h0.01M650.6 397.9h0.01M651.2 398h0.01M651.8 398.2h0.01M652.4 398.6h0.01M653 398.5h0.01M653.6 398.4h0.01M654.3 399.1h0.01M654.9 399.3h0.01M655.5 399.7h0.01M656.1 400h0.01M656.7 400.5h0.01M657.3 401h0.01M657.9 400.7h0.01M658.5 401.1h0.01M659.1 401.6h0.01M659.7 402.3h0.01M660.3 402h0.01M660.9 401.7h0.01M661.5 403.1h0.01M662.2 402.6h0.01M662.8 403.2h0.01M663.4 403.5h0.01M664 404.2h0.01M664.6 403.6h0.01M665.2 405h0.01M665.8 404.7h0.01M666.4 405.6h0.01M667 405.4h0.01M667.6 406.8h0.01M668.2 406.1h0.01M668.8 406.3h0.01M669.5 406.4h0.01M670.1 406.1h0.01M670.7 407.9h0.01M671.3 407.1h0.01M671.9 408h0.01M672.5 408.5h0.01M673.1 408.8h0.01M673.7 408.8h0.01M674.3 408.9h0.01M674.9 409.6h0.01M675.5 409.7h0.01M676.1 409.5h0.01M676.7 410h0.01M677.4 410.9h0.01M678 411.3h0.01M678.6 410.4h0.01M679.2 411.7h0.01M679.8 411.8h0.01M680.4 412.5h0.01M681 412.5h0.01M681.6 412.7h0.01M682.2 413.4h0.01M682.8 413.8h0.01M683.4 414.1h0.01M684 414h0.01M684.6 414.5h0.01M685.3 415.3h0.01M685.9 414.9h0.01M686.5 415h0.01M687.1 415.7h0.01M687.7 415.5h0.01M688.3 416.5h0.01M688.9 416.2h0.01M689.5 416.7h0.01M690.1 417.5h0.01M690.7 417.1h0.01M691.3 417.6h0.01M691.9 418.2h0.01M692.6 418.4h0.01M693.2 418h0.01M693.8 419.1h0.01M694.4 419h0.01M695 419.4h0.01M695.6 419.8h0.01M696.2 420.1h0.01M696.8 420.2h0.01M697.4 420.7h0.01M698 420.7h0.01M698.6 420.4h0.01M699.2 420.7h0.01M699.8 421.1h0.01M700.5 421.3h0.01M701.1 421.8h0.01M701.7 421.4h0.01M702.3 422.5h0.01M702.9 423h0.01M703.5 423.2h0.01M704.1 423.2h0.01M704.7 423.1h0.01M705.3 424.5h0.01M705.9 423.7h0.01M706.5 424.1h0.01M707.1 424.5h0.01M707.7 424.2h0.01M708.4 424.6h0.01M709 425.3h0.01M709.6 426h0.01M710.2 425.7h0.01M710.8 426.2h0.01M711.4 426.5h0.01M712 426.7h0.01M712.6 426.5h0.01M713.2 427.4h0.01M713.8 427.1h0.01M714.4 427h0.01M715 427.2h0.01M715.7 428.2h0.01M716.3 428h0.01M716.9 428h0.01M717.5 428.8h0.01M718.1 428.9h0.01M718.7 428.8h0.01M719.3 428.6h0.01M719.9 429.2h0.01M720.5 429.5h0.01M721.1 429.2h0.01M721.7 430.7h0.01M722.3 430h0.01M722.9 429.8h0.01M723.6 429.8h0.01M724.2 431h0.01M724.8 430.7h0.01M725.4 431h0.01M726 430.9h0.01M726.6 431.6h0.01M727.2 431.7h0.01M727.8 431.3h0.01M728.4 431.7h0.01M729 431.5h0.01M729.6 432.3h0.01M730.2 432.3h0.01M730.8 432.8h0.01M731.5 432.8h0.01M732.1 433.1h0.01M732.7 432.3h0.01M733.3 432.8h0.01M733.9 432.8h0.01M734.5 432.9h0.01M735.1 433.2h0.01M735.7 434h0.01M736.3 434.1h0.01M736.9 434.5h0.01M737.5 434.3h0.01M738.1 434.5h0.01M738.8 434.3h0.01M739.4 434.5h0.01M740 434.6h0.01M740.6 434.6h0.01M741.2 434.5h0.01M741.8 435h0.01M742.4 435.5h0.01" stroke="#ee0000" stroke-width="2.4" stroke-linecap="round" fill="none"/>
<rect x="134.5" y="46.0" width="607.9" height="430.6" fill="none" stroke="#000" stroke-width="2.5"/>
<path d="M195.3 476.6v-8M195.3 46.0v8M256.1 476.6v-8M256.1 46.0v8M316.9 476.6v-8M316.9 46.0v8M377.7 476.6v-8M377.7 46.0v8M438.4 476.6v-8M438.4 46.0v8M499.2 476.6v-8M499.2 46.0v8M560 476.6v-8M560 46.0v8M620.8 476.6v-8M620.8 46.0v8M681.6 476.6v-8M681.6 46.0v8M134.5 411.3h6.5M742.4 411.3h-6.5M134.5 373.4h6.5M742.4 373.4h-6.5M134.5 346.6h6.5M742.4 346.6h-6.5M134.5 325.7h6.5M742.4 325.7h-6.5M134.5 308.7h6.5M742.4 308.7h-6.5M134.5 294.3h6.5M742.4 294.3h-6.5M134.5 281.8h6.5M742.4 281.8h-6.5M134.5 270.8h6.5M742.4 270.8h-6.5M134.5 261h12M742.4 261h-12M134.5 196.3h6.5M742.4 196.3h-6.5M134.5 158.4h6.5M742.4 158.4h-6.5M134.5 131.6h6.5M742.4 131.6h-6.5M134.5 110.7h6.5M742.4 110.7h-6.5M134.5 93.7h6.5M742.4 93.7h-6.5M134.5 79.3h6.5M742.4 79.3h-6.5M134.5 66.8h6.5M742.4 66.8h-6.5M134.5 55.8h6.5M742.4 55.8h-6.5" stroke="#000" stroke-width="2.2" fill="none"/>
<g font-family="'Liberation Serif', 'DejaVu Serif', serif" font-size="31" fill="#000">
<text x="128.6" y="58.5" text-anchor="end">100</text>
<text x="126" y="269.3" text-anchor="end">10</text>
<text x="127.5" y="477" text-anchor="end">1</text>
<text x="127.4" y="509" text-anchor="middle">0</text>
<text x="193.2" y="509" text-anchor="middle">100</text>
<text x="252.9" y="509" text-anchor="middle">200</text>
<text x="314" y="509" text-anchor="middle">300</text>
<text x="375.5" y="509" text-anchor="middle">400</text>
<text x="436.5" y="509" text-anchor="middle">500</text>
<text x="497.5" y="509" text-anchor="middle">600</text>
<text x="558.5" y="509" text-anchor="middle">700</text>
<text x="619" y="509" text-anchor="middle">800</text>
<text x="680" y="509" text-anchor="middle">900</text>
<text x="741" y="509" text-anchor="middle">1000</text>
</g>
<text x="234" y="561.5" font-family="'Liberation Serif', 'DejaVu Serif', serif" font-size="36">Spherical Harmonic Wavenumber</text>
<text transform="translate(58.2 469.5) rotate(-90)" font-family="'Liberation Serif', 'DejaVu Serif', serif" font-size="36">Power (m<tspan dy="-15" font-size="23">2</tspan><tspan dy="15"> s</tspan><tspan dy="-15" font-size="23">-2</tspan><tspan dy="15"> wavenumber</tspan><tspan dy="-15" font-size="23">-1</tspan><tspan dy="15">)</tspan></text>
<rect x="584" y="68" width="144" height="56.5" fill="#fff" stroke="#000" stroke-width="2"/>
<g font-family="'Liberation Serif', 'DejaVu Serif', serif" font-size="23"><text x="591" y="91.3">HMI</text><text x="591.5" y="113">MDI</text></g>
<path d="M646.9 82.4l5.4 5.4M646.9 87.8l5.4 -5.4" stroke="#0000ff" stroke-width="2.3"/>
<path d="M646.9 105.1l5.4 5.4M646.9 110.5l5.4 -5.4" stroke="#ee0000" stroke-width="2.3"/>
<path d="M675.3 82.4l5.4 5.4M675.3 87.8l5.4 -5.4" stroke="#0000ff" stroke-width="2.3"/>
<path d="M675.3 105.1l5.4 5.4M675.3 110.5l5.4 -5.4" stroke="#ee0000" stroke-width="2.3"/>
<path d="M704 82.4l5.4 5.4M704 87.8l5.4 -5.4" stroke="#0000ff" stroke-width="2.3"/>
<path d="M704 105.1l5.4 5.4M704 110.5l5.4 -5.4" stroke="#ee0000" stroke-width="2.3"/>
<text x="4.5" y="636" font-family="'Liberation Serif', 'DejaVu Serif', serif" font-weight="bold" font-size="35" letter-spacing="0.5">(b)</text>
<defs><clipPath id="cb"><rect x="118" y="637.1" width="649.4" height="492.5"/></clipPath></defs>
<g clip-path="url(#cb)" fill="none" stroke-linejoin="round" stroke-linecap="round" stroke-width="7">
<path d="M320 1043C321.5 1042.1 325.1 1040.2 329.2 1037.8C333.3 1035.4 339.4 1031.8 344.5 1028.7C349.6 1025.7 355.1 1022.8 359.7 1019.5C364.3 1016.2 368.4 1012.1 372 1008.8C375.6 1005.5 378.1 1001.8 381.1 999.6C384.2 997.4 386.7 995.9 390.3 995.6C393.9 995.3 398.4 997.1 402.5 998C406.6 998.9 411.2 1001.6 414.8 1001.1C418.4 1000.6 420.9 997.1 424 995C427.1 992.9 430.1 989.2 433.1 988.3C436.2 987.4 439.2 990.9 442.3 989.5C445.4 988.1 448.4 982.6 451.5 979.7C454.6 976.8 457.8 972.9 460.6 972.1C463.4 971.4 465.8 975.5 468.3 975.2C470.9 975 473.1 972.8 475.9 970.6C478.7 968.4 481.8 963 485.1 962C488.4 961 492.8 964.6 495.8 964.5C498.9 964.4 500.6 962 503.4 961.4C506.2 960.8 510.1 961.6 512.6 960.8C515.2 960 515.6 956.6 518.7 956.8C521.8 957 527.5 961.6 531 962C534.5 962.4 537.5 959.8 540 959C542.5 958.2 544.6 958 546.2 957.5C547.8 957 547.8 955.9 549.4 955.9C551 955.9 553.5 957.8 555.6 957.5C557.7 957.2 559.7 955.3 561.8 954.3C563.9 953.2 566 951.6 568.1 951.2C570.2 950.8 572.5 952.4 574.3 952.1C576.1 951.9 577.4 949.9 579 949.7C580.6 949.6 581.9 951.2 583.7 951.2C585.5 951.2 588.1 949.8 589.9 949.7C591.7 949.6 593 951 594.6 950.6C596.2 950.2 597.7 947.6 599.3 947.5C600.9 947.4 602.4 949.5 604 949.7C605.6 949.9 606.9 949.5 608.7 948.7C610.5 947.9 613.1 945.2 614.9 945C616.7 944.8 618.3 947.4 619.6 947.5C620.9 947.6 621.4 945.8 622.7 945.6C624 945.4 625.8 946.1 627.4 946.5C629 946.9 630.5 947.7 632.1 948.1C633.7 948.5 635.2 948.8 636.8 948.7C638.3 948.6 639.8 947.2 641.4 947.5C643 947.8 644.5 950 646.1 950.6C647.7 951.2 649.2 950.8 650.8 951.2C652.4 951.6 653.7 951.6 655.5 952.8C657.3 954 659.3 955.3 661.7 958.3C664.1 961.3 667.6 967.7 670 970.8C672.4 973.9 674.2 974.3 676.3 977.1C678.4 979.9 680.4 983.3 682.5 987.5C684.6 991.7 686.7 996.6 688.8 1002.1C690.9 1007.6 693.1 1013.1 695 1020.8C696.9 1028.5 698.3 1038.3 700 1048C701.7 1057.7 703 1070.5 705 1079C707 1087.5 709.5 1094.9 711.7 1099C713.9 1103.1 715.9 1102.4 718 1103.5C720.1 1104.6 722.1 1104.8 724.2 1105.8C726.3 1106.8 728.3 1109.5 730.4 1109.8C732.5 1110.1 735.1 1106 736.7 1107.8C738.3 1109.6 738.9 1117.2 739.8 1120.8C740.7 1124.4 741.4 1126 741.9 1129.2C742.4 1132.4 742.8 1138.2 743 1140" stroke="#ff0000"/>
<path d="M320 1060C321.5 1060.4 325.1 1060.9 329.2 1062.3C333.3 1063.7 339.9 1066.9 344.5 1068.4C349.1 1069.9 352.6 1072.5 356.7 1071.5C360.8 1070.5 364.8 1066.4 368.9 1062.3C373 1058.2 377.3 1050.6 381.1 1047C384.9 1043.4 388.2 1040.7 391.8 1040.9C395.4 1041.2 398.7 1045.7 402.5 1048.5C406.3 1051.3 410.7 1057.2 414.8 1057.7C418.9 1058.2 422.4 1054.4 427 1051.6C431.6 1048.8 437.7 1044.5 442.3 1040.9C446.9 1037.3 450.4 1034 454.5 1030.2C458.6 1026.4 462.6 1020.6 466.7 1018C470.8 1015.4 474.9 1015.3 479 1014.3C483.1 1013.3 487.1 1012.5 491.2 1011.8C495.3 1011.1 499.3 1012.3 503.4 1010.3C507.5 1008.3 511.6 1002.9 515.7 999.6C519.8 996.3 523.8 992.4 527.9 990.4C532 988.4 536.5 989.7 540.1 987.4C543.7 985.1 546 979.2 549.3 976.7C552.6 974.2 556.9 973 560 972.1C563.1 971.2 565.5 972.9 568.1 971.5C570.8 970.1 573.3 964.2 575.9 963.7C578.5 963.2 580.3 969.4 583.7 968.4C587.1 967.4 591.5 959.3 596.2 957.5C600.9 955.7 608.2 958.3 611.8 957.5C615.4 956.7 615.2 953.5 618 952.8C620.8 952.1 624.8 952.9 628.3 953.1C631.8 953.3 636 953.7 638.8 954.2C641.6 954.7 642.6 956.3 645 956.3C647.4 956.3 650.9 953.5 653.3 954.2C655.7 954.9 657.5 957.3 659.6 960.4C661.7 963.5 663.4 969.8 665.8 972.9C668.2 976 672.1 976.8 674.2 979.2C676.3 981.6 676.6 984.4 678.3 987.5C680 990.6 682.9 994.4 684.6 997.9C686.4 1001.4 687.6 1003.9 688.8 1008.3C690 1012.6 690.5 1021.2 691.9 1024C693.3 1026.8 695.7 1020.7 697.1 1025C698.5 1029.3 698.8 1041 700.2 1050C701.6 1059 703.5 1070.9 705.4 1079.2C707.3 1087.5 709.6 1095.8 711.7 1100C713.8 1104.2 715.8 1103.2 717.9 1104.2C720 1105.2 722.1 1105.3 724.2 1106.3C726.3 1107.3 728.3 1110.1 730.4 1110.4C732.5 1110.7 735.1 1106.6 736.7 1108.3C738.3 1110 738.9 1117.3 739.8 1120.8C740.7 1124.3 741.4 1126 741.9 1129.2C742.4 1132.4 742.8 1138.2 743 1140" stroke="#000000"/>
<path d="M222 975C222.8 972.8 225.2 966 227 962C228.8 958 230.9 954.6 233.1 951.3C235.3 948 237.9 945.5 240.3 942.4C242.7 939.3 245 935.9 247.4 932.6C249.8 929.3 251.8 925.6 254.5 922.8C257.2 920 261 918.7 263.4 915.7C265.8 912.7 267.1 909.2 268.8 905C270.5 900.8 272 895.4 273.3 890.7C274.6 886 274.8 880.5 276.4 876.7C278 872.9 279.9 868.9 282.7 867.8C285.4 866.7 289.9 870.7 292.9 870.3C295.9 869.9 298.1 866.7 300.6 865.2C303.2 863.7 305.9 864 308.2 861.4C310.5 858.8 312.5 853.3 314.6 849.9C316.7 846.5 318.7 843.3 321 841C323.3 838.7 326.1 838 328.6 835.9C331.1 833.8 333.6 829.8 336.2 828.3C338.8 826.8 341.8 827.6 343.9 827C346 826.4 347.1 827 349 824.5C350.9 822 353.5 813.2 355.4 811.7C357.3 810.2 358.7 813.8 360.4 815.5C362.1 817.2 363.6 821.7 365.5 821.9C367.4 822.1 370 820.6 371.9 816.8C373.8 813 375.3 802.8 377 799C378.7 795.2 380 794.8 382.1 793.9C384.2 793 387.6 795.2 389.7 793.9C391.8 792.6 393.1 788.5 394.8 786.2C396.5 783.9 398 782.2 399.9 779.9C401.8 777.6 404.4 771.4 406.3 772.2C408.2 773.1 409.7 786.5 411.4 785C413.1 783.5 414.8 767.8 416.5 763.3C418.2 758.8 419.7 758.6 421.6 758.2C423.5 757.8 426.1 762.5 428 760.8C429.9 759.1 431.4 750.3 433.1 748C434.8 745.7 436.1 749.1 438.2 746.8C440.3 744.5 443.5 735.3 445.8 734C448.1 732.7 450.1 737.6 452.2 739.1C454.3 740.6 456.2 744.7 458.5 742.9C460.8 741.1 464.3 730.4 466.1 728.3C467.9 726.2 468.2 728.5 469.2 730.4C470.2 732.3 471 739.3 472.2 739.6C473.4 739.9 474.6 734.1 476.3 732.4C478 730.7 480.7 728.7 482.4 729.4C484.1 730.1 485.3 734.3 486.5 736.5C487.7 738.7 488.4 743.3 489.6 742.6C490.8 741.9 492.1 733.4 493.6 732.4C495.1 731.4 497 735.5 498.7 736.5C500.4 737.5 501.9 739 503.8 738.5C505.7 738 508 733.7 509.9 733.4C511.8 733.1 513.3 735.1 515 736.5C516.7 737.9 518.4 741.6 520.1 741.6C521.8 741.6 523.5 736 525.2 736.5C526.9 737 528.6 744 530.3 744.7C532 745.4 533.5 740.3 535.4 740.6C537.3 740.9 539.8 746 541.5 746.7C543.2 747.4 544.2 743.2 545.6 744.7C547 746.2 548 754.5 549.7 755.9C551.4 757.2 553.8 751.6 555.8 752.8C557.8 754 559.9 761.6 561.9 763C563.9 764.4 566 759.6 568 761C570 762.4 572.1 769.2 574.1 771.2C576.1 773.2 578.2 771.9 580.3 773.2C582.3 774.6 584.4 777.6 586.4 779.3C588.4 781 590.1 781.9 592.5 783.4C594.9 784.9 598.2 786.5 600.6 788.5C603 790.5 604.4 793.4 606.8 795.6C609.2 797.8 612.3 799.6 614.9 801.7C617.5 803.8 619.5 805.8 622.1 808.3C624.7 810.8 627.5 812.9 630.4 816.7C633.3 820.5 637.4 827.1 639.8 831.3C642.2 835.5 643.1 837.9 645 841.7C646.9 845.5 649.2 850.4 651.3 854.2C653.4 858 655.6 860.8 657.5 864.6C659.4 868.4 661 872.6 662.7 877.1C664.4 881.6 666.2 886.5 667.9 891.7C669.6 896.9 671.4 902.4 673.1 908.3C674.8 914.2 676.7 921.5 678.3 927.1C679.9 932.7 681.1 936.8 682.5 941.7C683.9 946.6 685.3 950.4 686.7 956.3C688.1 962.2 689.4 971.2 690.8 977.1C692.2 983 693.6 986.5 695 991.7C696.4 996.9 698.1 1002 699.2 1008.3C700.3 1014.5 701.1 1022.2 701.8 1029.2C702.5 1036.2 702.7 1043.1 703.2 1050C703.7 1056.9 704 1063.2 704.8 1070.8C705.6 1078.4 706.7 1086.1 707.8 1095.8C708.9 1105.5 710.4 1121.8 711.2 1129.2C712 1136.6 712.3 1138.2 712.5 1140" stroke="#4682b4"/>
<path d="M212 960C213.4 958.5 217.7 953.9 220.6 951.3C223.5 948.7 226.9 945.4 229.6 944.2C232.3 943 234.3 943.8 236.7 944.2C239.1 944.7 241.7 947 243.8 946.9C245.9 946.8 247.1 945.8 249.2 943.3C251.3 940.8 253.9 935 256.3 931.7C258.7 928.4 261 924.4 263.4 923.7C265.8 923 268.2 925.1 270.6 927.3C273 929.5 275.6 934.7 277.7 937.1C279.8 939.5 281.3 941.8 283.1 941.5C284.9 941.2 287.2 936.1 288.4 935.3C289.5 934.5 289 938.2 290 936.5C291 934.8 293.1 927.9 294.6 925C296.1 922.1 297.7 919.9 299.2 919.3C300.7 918.7 302.1 920.5 303.8 921.6C305.5 922.7 307.6 925.5 309.5 925.7C311.4 925.9 313.3 923.7 315.2 922.7C317.1 921.8 319.1 920.2 321 920C322.9 919.8 324.8 921 326.7 921.6C328.6 922.2 330.7 923.1 332.4 923.4C334.1 923.7 335.5 922.5 337 923.4C338.5 924.2 340.1 927.1 341.6 928.5C343.1 929.9 344.7 932.5 346.2 931.9C347.7 931.3 349.3 926.9 350.8 925C352.3 923.1 354.1 921.4 355.4 920.4C356.7 919.4 357.5 921.2 358.8 919.3C360.1 917.4 361.9 912.2 363.4 909C364.9 905.8 366.5 901.6 368 899.8C369.5 898 370.8 898.4 372.5 898C374.2 897.6 376.8 897 378.3 897.5C379.8 898 380.4 899.1 381.7 901C383 902.9 384.8 908.8 386.3 909C387.8 909.2 389.6 903.6 390.9 902.1C392.2 900.6 393.1 899.4 394.3 899.8C395.5 900.2 396.7 902.3 397.8 904.4C398.9 906.5 400.1 910.1 401.2 912.4C402.3 914.7 403.4 918.2 404.7 918.2C406 918.2 407.7 914.1 409.2 912.4C410.7 910.7 412.4 908.8 413.8 907.8C415.2 906.8 416.3 908 417.3 906.7C418.3 905.4 418.7 901.6 419.6 899.8C420.6 898 421.7 898 423 895.7C424.3 893.4 426.5 887.8 427.6 886.1C428.8 884.4 428.9 884.7 429.9 885.6C430.8 886.5 432.1 891 433.3 891.8C434.5 892.6 435.7 891.5 436.8 890.6C437.9 889.7 439.1 886.3 440.2 886.1C441.3 885.9 442.3 888.4 443.6 889.5C444.9 890.6 446.9 892.5 448.2 892.9C449.5 893.3 450.5 891 451.7 891.8C452.9 892.6 454 897.9 455.1 897.5C456.2 897.1 457.2 890.8 458.5 889.5C459.8 888.2 461.8 889.3 463.1 889.5C464.5 889.7 465.5 891.2 466.6 890.6C467.8 890 469.3 887.3 470 886C470.7 884.7 469.7 883.7 470.6 883C471.6 882.3 474 881.1 475.7 881.7C477.4 882.3 479.1 886.2 480.8 886.8C482.5 887.4 484.4 884.7 485.9 885.5C487.4 886.3 488 891.2 489.7 891.8C491.4 892.4 493.7 890.1 496 889.3C498.3 888.5 501.1 887.2 503.7 886.8C506.2 886.4 509.2 887.2 511.3 886.8C513.4 886.4 514.9 885.1 516.4 884.2C517.9 883.4 518.6 881.3 520.3 881.7C522 882.1 523.9 886.4 526.6 886.8C529.4 887.2 533.4 885.1 536.8 884.2C540.2 883.4 544.5 881.5 547 881.7C549.5 881.9 550.4 885.5 552.1 885.5C553.8 885.5 555.5 882.8 557.2 881.7C558.9 880.6 560.6 878.9 562.3 879.1C564 879.3 565.3 882.9 567.4 882.9C569.5 882.9 572.5 879.7 575 879.1C577.5 878.5 580.2 878.9 582.7 879.1C585.2 879.3 588.2 880.4 590.3 880.4C592.4 880.4 593.3 878.9 595.4 879.1C597.5 879.3 601 881.5 603.1 881.7C605.2 881.9 606.1 880 608.2 880.4C610.3 880.8 613.7 883.4 615.8 884.2C617.9 885.1 619.1 884.2 620.9 885.5C622.6 886.8 624 890.2 626.3 891.7C628.6 893.2 632.2 893.4 634.6 894.8C637 896.2 638.4 898.4 640.8 900C643.2 901.6 646.8 902.5 649.2 904.2C651.6 905.9 653.3 908 655.4 910.4C657.5 912.8 659.8 915.8 661.7 918.8C663.6 921.8 665 925.3 666.9 928.1C668.8 930.9 671.4 932.5 673.1 935.4C674.8 938.3 675.7 941.6 677.3 945.8C678.9 950 680.9 955.9 682.5 960.4C684.1 964.9 685.3 967.3 686.7 972.9C688.1 978.5 689.2 987.9 690.8 993.8C692.3 999.7 694.4 1003.4 696 1008.3C697.6 1013.1 699.3 1015.9 700.2 1022.9C701.1 1029.8 700.9 1039.2 701.3 1050C701.6 1060.8 701.4 1078.8 702.3 1087.5C703.2 1096.2 704.9 1095.1 706.5 1102.1C708.1 1109 710.6 1122.9 711.7 1129.2C712.8 1135.5 712.8 1138.2 713 1140" stroke="#d2b48c"/>
</g>
<g fill="none" stroke="#000" stroke-width="1.9">
<path d="M316.4 820.7L443.5 719.5"/>
<path d="M501.1 699.6L649.2 784" stroke-dasharray="15.4 6.6"/>
<path d="M501.1 699.6L649.2 799.9" stroke-dasharray="3 9.9" stroke-dashoffset="-9" stroke-width="2.3"/>
<path d="M468.9 951.3L655.4 876.4"/>
<path d="M468.9 951.3L654.4 906" stroke-dasharray="15.4 6.6"/>
<path d="M468.9 951.3L649 925.6" stroke-dasharray="3 9.7" stroke-dashoffset="-12" stroke-width="2.3"/>
<path d="M468.4 637.5V1129.2" stroke-dasharray="18.7 19.3" stroke-dashoffset="21.5"/>
</g>
<rect x="118.0" y="637.1" width="649.4" height="492.5" fill="none" stroke="#000" stroke-width="2"/>
<path d="M215.7 1129.6v-6M215.7 637.1v6M272.9 1129.6v-6M272.9 637.1v6M313.5 1129.6v-6M313.5 637.1v6M345 1129.6v-6M345 637.1v6M370.7 1129.6v-6M370.7 637.1v6M392.4 1129.6v-6M392.4 637.1v6M411.2 1129.6v-6M411.2 637.1v6M427.8 1129.6v-6M427.8 637.1v6M442.7 1129.6v-12M442.7 637.1v12M540.4 1129.6v-6M540.4 637.1v6M597.6 1129.6v-6M597.6 637.1v6M638.2 1129.6v-6M638.2 637.1v6M669.7 1129.6v-6M669.7 637.1v6M695.4 1129.6v-6M695.4 637.1v6M717.1 1129.6v-6M717.1 637.1v6M735.9 1129.6v-6M735.9 637.1v6M752.5 1129.6v-6M752.5 637.1v6M118.0 1119.9h6M767.4 1119.9h-6M118.0 1111.1h6M767.4 1111.1h-6M118.0 1103.6h6M767.4 1103.6h-6M118.0 1096.9h6M767.4 1096.9h-6M118.0 1090.9h12M767.4 1090.9h-12M118.0 1051.6h6M767.4 1051.6h-6M118.0 1028.5h6M767.4 1028.5h-6M118.0 1012.2h6M767.4 1012.2h-6M118.0 999.5h6M767.4 999.5h-6M118.0 989.2h6M767.4 989.2h-6M118.0 980.4h6M767.4 980.4h-6M118.0 972.9h6M767.4 972.9h-6M118.0 966.2h6M767.4 966.2h-6M118.0 960.2h12M767.4 960.2h-12M118.0 920.9h6M767.4 920.9h-6M118.0 897.8h6M767.4 897.8h-6M118.0 881.5h6M767.4 881.5h-6M118.0 868.8h6M767.4 868.8h-6M118.0 858.5h6M767.4 858.5h-6M118.0 849.7h6M767.4 849.7h-6M118.0 842.2h6M767.4 842.2h-6M118.0 835.5h6M767.4 835.5h-6M118.0 829.5h12M767.4 829.5h-12M118.0 790.2h6M767.4 790.2h-6M118.0 767.1h6M767.4 767.1h-6M118.0 750.8h6M767.4 750.8h-6M118.0 738.1h6M767.4 738.1h-6M118.0 727.8h6M767.4 727.8h-6M118.0 719h6M767.4 719h-6M118.0 711.5h6M767.4 711.5h-6M118.0 704.8h6M767.4 704.8h-6M118.0 698.8h12M767.4 698.8h-12M118.0 659.5h6M767.4 659.5h-6" stroke="#000" stroke-width="1.6" fill="none"/>
<g font-family="'Liberation Serif', 'DejaVu Serif', serif" font-size="29.5" fill="#000">
<text x="104.7" y="706.8" text-anchor="end">10<tspan dy="-10.7" font-size="21">4</tspan></text>
<text x="104.7" y="837.5" text-anchor="end">10<tspan dy="-10.7" font-size="21">3</tspan></text>
<text x="104.7" y="968.2" text-anchor="end">10<tspan dy="-10.7" font-size="21">2</tspan></text>
<text x="104.7" y="1098.9" text-anchor="end">10<tspan dy="-10.7" font-size="21">1</tspan></text>
<text x="118.5" y="1161.9" text-anchor="middle">10<tspan dy="-10.7" font-size="21">1</tspan></text>
<text x="443.2" y="1161.9" text-anchor="middle">10<tspan dy="-10.7" font-size="21">2</tspan></text>
<text x="767.9" y="1161.9" text-anchor="middle">10<tspan dy="-10.7" font-size="21">3</tspan></text>
</g>
<text x="346" y="1202.2" font-family="'Liberation Serif', 'DejaVu Serif', serif" font-size="28.2">Angular degree <tspan font-style="italic">ℓ</tspan></text>
<text transform="translate(37.2 0) rotate(-90)" font-family="'Liberation Serif', 'DejaVu Serif', serif" font-size="28.5"><tspan x="-1065.5" y="0">Spectral energy </tspan><tspan font-style="italic">E</tspan><tspan font-size="24" dx="1">(</tspan><tspan font-style="italic" font-size="26" dx="1">ℓ</tspan><tspan font-size="24" dx="1">)</tspan><tspan x="-788.9" y="0">m</tspan><tspan x="-766.5" y="-10.3" font-size="21">2</tspan><tspan x="-750.2" y="0">s</tspan><tspan x="-739" y="-10.3" font-size="21">−2</tspan></text>
<text transform="translate(41.55 798.3) rotate(-90) scale(0.66 1)" font-family="'Liberation Serif', 'DejaVu Serif', serif" font-size="46">(</text>
<text transform="translate(41.55 712.5) rotate(-90) scale(0.66 1)" font-family="'Liberation Serif', 'DejaVu Serif', serif" font-size="46">)</text>
<rect x="131.6" y="650.2" width="179.4" height="152.9" fill="#fff" stroke="#000" stroke-width="1.6"/>
<g stroke-width="6.6" fill="none">
<path d="M152.6 676.4H189.9" stroke="#ff0000"/>
<path d="M152.6 707.8H189.9" stroke="#000000"/>
<path d="M152.6 739.4H189.9" stroke="#4682b4"/>
<path d="M152.6 770.9H189.9" stroke="#d2b48c"/>
</g>
<g font-family="'Liberation Serif', 'DejaVu Serif', serif" font-size="28.5">
<text x="203.5" y="688.3">Doppler</text>
<text x="203.9" y="715.6" font-style="italic">E</text>
<text x="221.4" y="720" font-style="italic" font-size="21">r</text>
<text x="231.7" y="717.1" font-size="25">(</text>
<text x="242" y="716.4" font-style="italic" font-size="27">ℓ</text>
<text x="256.0" y="717.1" font-size="25">)</text>
<text x="203.9" y="747.3" font-style="italic">E</text>
<text x="221.4" y="751.5" font-style="italic" font-size="21">S</text>
<text x="237.5" y="748.8" font-size="25">(</text>
<text x="247.8" y="748.0999999999999" font-style="italic" font-size="27">ℓ</text>
<text x="261.5" y="748.8" font-size="25">)</text>
<text x="203.9" y="777.9" font-style="italic">E</text>
<text x="221.4" y="782" font-style="italic" font-size="21">T</text>
<text x="237.5" y="779.4" font-size="25">(</text>
<text x="247.8" y="778.6999999999999" font-style="italic" font-size="27">ℓ</text>
<text x="261.7" y="779.4" font-size="25">)</text>
</g>
<text transform="translate(343.5 760) scale(1.05 1)" font-family="DejaVu Math TeX Gyre, DejaVu Serif, serif" font-size="29">∝</text><text x="366.3" y="759" font-family="'Liberation Serif', 'DejaVu Serif', serif" font-style="italic" font-size="25">ℓ</text><text x="375.6" y="750" font-family="'Liberation Serif', 'DejaVu Serif', serif" font-size="20" letter-spacing="0.8">2</text>
<text transform="translate(653.2 789.3) scale(1.05 1)" font-family="DejaVu Math TeX Gyre, DejaVu Serif, serif" font-size="29">∝</text><text x="676.1" y="787.5" font-family="'Liberation Serif', 'DejaVu Serif', serif" font-style="italic" font-size="25">ℓ</text><text x="687.3" y="778.6" font-family="'Liberation Serif', 'DejaVu Serif', serif" font-size="19" letter-spacing="0.8">−7/5</text>
<text transform="translate(653.2 812.5) scale(1.05 1)" font-family="DejaVu Math TeX Gyre, DejaVu Serif, serif" font-size="29">∝</text><text x="676.1" y="810.5" font-family="'Liberation Serif', 'DejaVu Serif', serif" font-style="italic" font-size="25">ℓ</text><text x="687.3" y="801.6" font-family="'Liberation Serif', 'DejaVu Serif', serif" font-size="19" letter-spacing="0.8">−5/3</text>
<text transform="translate(676.5 876.7) scale(1.05 1)" font-family="DejaVu Math TeX Gyre, DejaVu Serif, serif" font-size="29">∝</text><text x="699.4" y="875.2" font-family="'Liberation Serif', 'DejaVu Serif', serif" font-style="italic" font-size="25">ℓ</text>
<text transform="translate(679.9 905.4) scale(1.05 1)" font-family="DejaVu Math TeX Gyre, DejaVu Serif, serif" font-size="29">∝</text><text x="702.8" y="903.6" font-family="'Liberation Serif', 'DejaVu Serif', serif" font-style="italic" font-size="25">ℓ</text><text x="712.5" y="897.4" font-family="'Liberation Serif', 'DejaVu Serif', serif" font-size="19" letter-spacing="0.8">3/5</text>
<text transform="translate(683.9 935.2) scale(1.05 1)" font-family="DejaVu Math TeX Gyre, DejaVu Serif, serif" font-size="29">∝</text><text x="706.8" y="933.4" font-family="'Liberation Serif', 'DejaVu Serif', serif" font-style="italic" font-size="25">ℓ</text><text x="716.5" y="925.5" font-family="'Liberation Serif', 'DejaVu Serif', serif" font-size="19" letter-spacing="0.8">1/3</text>
<rect x="166.9" y="953.4" width="162.29999999999998" height="145.5000000000001" fill="#fff"/>
<defs><clipPath id="ci"><rect x="166.9" y="953.4" width="162.3" height="145.5"/></clipPath></defs>
<path clip-path="url(#ci)" d="M190 950C190.1 950.8 190.1 952.3 190.4 954.6C190.7 956.9 191.3 962 191.9 963.8C192.5 965.6 193.2 965.6 194.2 965.3C195.2 965 197 962 198 962.2C199 962.5 199.7 965.1 200.3 966.8C200.9 968.5 200.8 970.9 201.8 972.2C202.8 973.5 205.4 972.9 206.4 974.5C207.4 976.1 207.4 979.1 207.9 982.1C208.4 985.1 209 989.8 209.5 992.8C210 995.8 210.4 998.9 211 1000.4C211.6 1001.9 212.8 999.7 213.3 1002C213.8 1004.3 213.5 1011.7 214 1014.2C214.5 1016.8 215.4 1016 216.3 1017.3C217.2 1018.6 218.4 1020 219.4 1021.8C220.4 1023.6 221.7 1026.1 222.5 1028C223.3 1029.9 223.4 1033.6 224 1033.3C224.6 1033 225.4 1027.8 226.3 1026.4C227.2 1025 228.3 1024.1 229.3 1024.9C230.3 1025.7 231.4 1030.5 232.4 1031C233.4 1031.5 234.5 1028 235.4 1028C236.3 1028 236.9 1029.7 237.7 1031C238.5 1032.3 239.1 1034.1 240 1035.6C240.9 1037.1 242.2 1039.2 243.1 1040.2C244 1041.2 244.6 1042.5 245.4 1041.7C246.2 1040.9 246.8 1036.5 247.7 1035.6C248.6 1034.7 249.7 1035.6 250.7 1036.4C251.7 1037.2 252.8 1041 253.8 1040.2C254.8 1039.4 255.5 1033.3 256.8 1031.8C258.1 1030.3 259.9 1032.4 261.4 1031C262.9 1029.6 264.7 1023.9 266 1023.4C267.3 1022.9 268 1027.8 269.1 1028C270.2 1028.2 271.5 1025.9 272.9 1024.9C274.3 1023.9 276.4 1022.9 277.5 1021.8C278.6 1020.6 278.7 1019 279.8 1018C280.9 1017 283.1 1016.6 284.4 1015.7C285.7 1014.8 286.4 1014.2 287.4 1012.7C288.4 1011.2 289.5 1008 290.5 1006.6C291.5 1005.2 292.4 1005.1 293.5 1004.3C294.6 1003.5 296.8 1002.4 297.4 1002" fill="none" stroke="#000" stroke-width="6.2" stroke-linejoin="round" stroke-linecap="round"/>
<path d="M230.9 953.4V1098.9" stroke="#000" stroke-width="1.9" stroke-dasharray="19 19" stroke-dashoffset="25.2" fill="none"/>
<rect x="166.9" y="953.4" width="162.29999999999998" height="145.5000000000001" fill="none" stroke="#000" stroke-width="1.8"/>
<path d="M179.9 1098.9v-6M179.9 953.4v6M190.2 1098.9v-6M190.2 953.4v6M198.7 1098.9v-6M198.7 953.4v6M205.9 1098.9v-6M205.9 953.4v6M212.1 1098.9v-6M212.1 953.4v6M217.5 1098.9v-6M217.5 953.4v6M222.4 1098.9v-12M222.4 953.4v12M254.6 1098.9v-6M254.6 953.4v6M273.4 1098.9v-6M273.4 953.4v6M286.7 1098.9v-6M286.7 953.4v6M297 1098.9v-6M297 953.4v6M305.5 1098.9v-6M305.5 953.4v6M312.7 1098.9v-6M312.7 953.4v6M318.9 1098.9v-6M318.9 953.4v6M324.3 1098.9v-6M324.3 953.4v6M166.9 1055.1h6M329.2 1055.1h-6M166.9 1029.5h6M329.2 1029.5h-6M166.9 1011.3h6M329.2 1011.3h-6M166.9 997.2h6M329.2 997.2h-6M166.9 985.7h6M329.2 985.7h-6M166.9 975.9h6M329.2 975.9h-6M166.9 967.5h6M329.2 967.5h-6M166.9 960.1h6M329.2 960.1h-6" stroke="#000" stroke-width="1.5" fill="none"/>
<g font-family="'Liberation Serif', 'DejaVu Serif', serif" font-size="21.5">
<text x="162.5" y="958.5" text-anchor="end">10<tspan dy="-7.5" font-size="15.5">1</tspan></text>
<text x="162.5" y="1104.3" text-anchor="end">10<tspan dy="-7.5" font-size="15.5">0</tspan></text>
<text x="223.6" y="1121.5" text-anchor="middle">10<tspan dy="-7.5" font-size="15.5">2</tspan></text>
<text x="329.1" y="1121.5" text-anchor="middle">10<tspan dy="-7.5" font-size="15.5">3</tspan></text>
<text x="243.5" y="1125" font-style="italic">ℓ</text>
<text transform="translate(147.6 1063.5) rotate(-90)"><tspan font-style="italic">λ</tspan><tspan font-style="italic" font-size="15.5" dy="3.5">r</tspan><tspan dy="-3.5"> (Mm)</tspan></text>
</g>
<text x="0.7" y="1243.3" font-family="'Liberation Serif', serif" font-weight="bold" font-size="35" letter-spacing="0.8">(c)</text>
<g fill="none" stroke-linejoin="round" stroke-dasharray="10.2 10.3">
<polyline points="93,1500.5 238.4,1501.8 246.8,1505.4 258,1511 269.2,1518 283.3,1525 297.3,1532 314.1,1540.4 328.1,1546 337.9,1552.2 344.9,1561.5 351.5,1569" stroke="#b82814" stroke-width="1.7"/>
<polyline points="93,1500 238.4,1501.3 258,1504.6 280.4,1506.3 305.7,1508.2 322.5,1510.2 330.9,1513.8 347.7,1520.8 364.5,1527.8 381.3,1534.8 389.8,1541.8 403.8,1553.1 417.8,1567.1 419.5,1569" stroke="#1e9e3c" stroke-width="1.7"/>
<polyline points="93,1498.4 240,1498.4 426.2,1501.2 446.9,1503.8 467.5,1508.3 485.9,1515.2 508.8,1524.4 531.7,1533.6 550.1,1543.9 566.1,1554.2 579.9,1566.8 582.2,1569" stroke="#1f5a94" stroke-width="1.5"/>
<polyline points="93,1499.5 240,1500.6 387,1502.6 426.2,1504.6 446.9,1506 462.9,1508.3 476.7,1510.2 492.7,1512.5 508.8,1515.2 531.7,1519.8 552.4,1526.7 568.4,1538.2 582.2,1549.6 591.3,1558.8 598.2,1568 599,1569" stroke="#000000" stroke-width="2.3"/>
</g>
<g fill="none" stroke-linejoin="round">
<polyline points="93,1303.4 181,1296.3 240.1,1302 261.1,1295.2 282,1290.6 314.5,1284.5 341.1,1286.9 363.5,1298.2 383,1303.7 400.1,1304.9 415.5,1310.4 429.4,1316 440,1315 452.1,1315.1 459.1,1320 464.8,1322.8 474,1322.3 483.9,1324.1 493.5,1329.6 503.8,1333.8 516.4,1341.1 523.3,1338.3 531.3,1351.6 540,1356.2 549.2,1365.4 554.9,1361.9 562.9,1371.1 569.8,1376.8 576.7,1387.1 581.3,1385.3 588.2,1396.3 595,1404.3 599.6,1413.5 608.8,1423.8 614.5,1425 619.1,1434.1 627.1,1439.9 631.3,1448.2 634.4,1454.3 637.5,1449.8 644.1,1466.9 648.2,1465.9 653.3,1470 656.3,1475 658.9,1481.7 661.4,1479.1 664,1487.8 666.5,1484.7 670.6,1491.4 673.6,1492.4 677.7,1498 682.3,1500.1 688.4,1504.8 694.5,1505.2 702.7,1506.2 712.9,1506.2" stroke="#003468" stroke-width="1.8"/>
<polyline points="93,1297.3 181,1286.8 240.1,1293 261.1,1301.3 282,1308 314.5,1310.4 341.1,1319.6 363.5,1326.6 383,1327.3 389.2,1336 400.1,1347.1 415.5,1357.4 429.4,1353.2 441.9,1368.6 453.4,1372.7 464.8,1381.5 474,1402.5 483.9,1400.7 492.4,1408.3 501.5,1419.7 509.6,1417.5 517.6,1433.5 529,1446.1 538.2,1458.7 548.5,1462.2 555.4,1471.3 560,1474.2 565.1,1475.1 570.2,1484.4 575.3,1485.9 580.4,1486.9 586.5,1488.9 593.6,1489.9 600.8,1493.4 613,1498.1 634.8,1502.2 649.7,1505.6 664,1507.3 678.2,1508.7 692.9,1509.7 712.9,1510.7" stroke="#1e9e3c" stroke-width="1.8"/>
<polyline points="93,1339.8 181,1321.3 240.1,1311 282,1302 314.5,1300.9 341.1,1290.2 363.5,1294.2 383,1302.6 400.1,1294 415.5,1291.5 429.4,1289.5 442.1,1283 453.7,1289 464.5,1292.2 474.6,1288 484,1292.2 492.8,1294 501.1,1296.5 509,1300 516.5,1305 523.2,1311.9 530,1320.2 535,1321.5 540,1321.8 548,1318.8 553.8,1327.5 559.5,1337.1 565.2,1334.9 571,1348.2 575.5,1349.3 581.3,1359.6 588.2,1363.7 593.9,1372.9 601.9,1367.6 606.5,1375.2 612.2,1380.3 620.3,1389 626,1402.7 631.7,1411.2 636.3,1410.1 640,1421.5 644.1,1422.5 647.1,1424.6 649.7,1432.7 653.3,1433.3 655.8,1441.4 659.9,1444.5 662.9,1449.6 665.5,1452.6 668.5,1462.3 672.6,1462.8 676.7,1472 679.2,1470 681.8,1476.6 685.9,1477.1 688.9,1483.2 692.5,1484.5 695,1486.3 698.6,1486.8 701.2,1490.3 704.2,1489.3 707.3,1494.9 710.3,1491.4 712.9,1492.9" stroke="#000000" stroke-width="2.1"/>
<polyline points="93,1295.7 181,1285.5 240.1,1292.7 282,1322.1 314.5,1322.1 341.1,1330.9 363.5,1348.7 380,1359.4 400.2,1369.3 415.5,1385.4 429.3,1396.8 443.1,1412.9 453.4,1432.4 464.8,1433.5 475.2,1442.7 483.9,1442 492.4,1449.6 501.5,1461 508.4,1463.3 516.4,1472.5 523.3,1469.5 537.1,1482.3 543.3,1477.8 549.7,1487.4 560,1483.8 565.1,1491 570.2,1487.9 575.3,1489.9 580.4,1491 586.5,1493.4 593.6,1494 606.5,1496.1 621.2,1499.1 634.8,1501.6 649.7,1503.6 664,1505.2 678.2,1506.9 692.9,1507.9 712.9,1508.3" stroke="#b82814" stroke-width="1.9"/>
</g>
<path d="M240.1 1307.5V1314.5M236.5 1307.5h7.2M236.5 1314.5h7.2M282 1298.5V1305.5M278.4 1298.5h7.2M278.4 1305.5h7.2M314.5 1298V1304M310.9 1298h7.2M310.9 1304h7.2M341.1 1287.5V1293M337.5 1287.5h7.2M337.5 1293h7.2M363.5 1290.5V1297.5M359.9 1290.5h7.2M359.9 1297.5h7.2M400.1 1290.5V1297.5M396.5 1290.5h7.2M396.5 1297.5h7.2M429.4 1286.5V1292.5M425.8 1286.5h7.2M425.8 1292.5h7.2M453.7 1285.5V1291.5M450.1 1285.5h7.2M450.1 1291.5h7.2M484 1289V1295M480.4 1289h7.2M480.4 1295h7.2M516.5 1301.5V1309M512.9 1301.5h7.2M512.9 1309h7.2M543.3 1316V1328M539.7 1316h7.2M539.7 1328h7.2M575.4 1342.4V1361.9M571.8 1342.4h7.2M571.8 1361.9h7.2M606.3 1369.9V1395.2M602.7 1369.9h7.2M602.7 1395.2h7.2M634.7 1407.8V1430.7M631.1 1407.8h7.2M631.1 1430.7h7.2M664 1443V1464.9M660.4 1443h7.2M660.4 1464.9h7.2M692.9 1478.7V1497.1M689.3 1478.7h7.2M689.3 1497.1h7.2" stroke="#000000" stroke-width="2.1" fill="none"/>
<path d="M240.1 1290V1295M236.5 1290h7.2M236.5 1295h7.2M282 1318V1325.7M278.4 1318h7.2M278.4 1325.7h7.2M314.5 1319.6V1324.8M310.9 1319.6h7.2M310.9 1324.8h7.2M341.1 1325.7V1334.9M337.5 1325.7h7.2M337.5 1334.9h7.2M363.5 1341V1363.5M359.9 1341h7.2M359.9 1363.5h7.2M400.1 1356.2V1392.9M396.5 1356.2h7.2M396.5 1392.9h7.2M429.4 1379.2V1428.2M425.8 1379.2h7.2M425.8 1428.2h7.2M453.7 1417.5V1470.9M450.1 1417.5h7.2M450.1 1470.9h7.2M484 1426.6V1470.9M480.4 1426.6h7.2M480.4 1470.9h7.2M516.5 1459.4V1493.8M512.9 1459.4h7.2M512.9 1493.8h7.2M543.3 1464.9V1494.7M539.7 1464.9h7.2M539.7 1494.7h7.2M575.4 1478.7V1509.7M571.8 1478.7h7.2M571.8 1509.7h7.2M606.3 1484.4V1508.9M602.7 1484.4h7.2M602.7 1508.9h7.2M634.7 1489.5V1516.2M631.1 1489.5h7.2M631.1 1516.2h7.2M664 1495.4V1519.5M660.4 1495.4h7.2M660.4 1519.5h7.2M692.9 1498.1V1518.5M689.3 1498.1h7.2M689.3 1518.5h7.2" stroke="#b82814" stroke-width="1.6" fill="none"/>
<rect x="92.8" y="1256.6" width="671.1" height="312.7" fill="none" stroke="#000" stroke-width="1.7"/>
<path d="M193.9 1569.3v-2.9M193.9 1256.6v2.9M253 1569.3v-2.9M253 1256.6v2.9M294.9 1569.3v-2.9M294.9 1256.6v2.9M327.4 1569.3v-2.9M327.4 1256.6v2.9M354 1569.3v-2.9M354 1256.6v2.9M376.4 1569.3v-2.9M376.4 1256.6v2.9M395.9 1569.3v-2.9M395.9 1256.6v2.9M413 1569.3v-2.9M413 1256.6v2.9M428.4 1569.3v-5.9M428.4 1256.6v5.9M529.4 1569.3v-2.9M529.4 1256.6v2.9M588.5 1569.3v-2.9M588.5 1256.6v2.9M630.4 1569.3v-2.9M630.4 1256.6v2.9M662.9 1569.3v-2.9M662.9 1256.6v2.9M689.5 1569.3v-2.9M689.5 1256.6v2.9M711.9 1569.3v-2.9M711.9 1256.6v2.9M731.4 1569.3v-2.9M731.4 1256.6v2.9M748.5 1569.3v-2.9M748.5 1256.6v2.9M92.8 1568.7h13M763.9 1568.7h-13M92.8 1547.7h6.6M763.9 1547.7h-6.6M92.8 1535.4h6.6M763.9 1535.4h-6.6M92.8 1526.7h6.6M763.9 1526.7h-6.6M92.8 1519.9h6.6M763.9 1519.9h-6.6M92.8 1514.4h6.6M763.9 1514.4h-6.6M92.8 1509.7h6.6M763.9 1509.7h-6.6M92.8 1505.7h6.6M763.9 1505.7h-6.6M92.8 1502.1h6.6M763.9 1502.1h-6.6M92.8 1498.9h13M763.9 1498.9h-13M92.8 1477.9h6.6M763.9 1477.9h-6.6M92.8 1465.6h6.6M763.9 1465.6h-6.6M92.8 1456.9h6.6M763.9 1456.9h-6.6M92.8 1450.1h6.6M763.9 1450.1h-6.6M92.8 1444.6h6.6M763.9 1444.6h-6.6M92.8 1439.9h6.6M763.9 1439.9h-6.6M92.8 1435.9h6.6M763.9 1435.9h-6.6M92.8 1432.3h6.6M763.9 1432.3h-6.6M92.8 1429.1h13M763.9 1429.1h-13M92.8 1408.1h6.6M763.9 1408.1h-6.6M92.8 1395.8h6.6M763.9 1395.8h-6.6M92.8 1387.1h6.6M763.9 1387.1h-6.6M92.8 1380.3h6.6M763.9 1380.3h-6.6M92.8 1374.8h6.6M763.9 1374.8h-6.6M92.8 1370.1h6.6M763.9 1370.1h-6.6M92.8 1366.1h6.6M763.9 1366.1h-6.6M92.8 1362.5h6.6M763.9 1362.5h-6.6M92.8 1359.3h13M763.9 1359.3h-13M92.8 1338.3h6.6M763.9 1338.3h-6.6M92.8 1326h6.6M763.9 1326h-6.6M92.8 1317.3h6.6M763.9 1317.3h-6.6M92.8 1310.5h6.6M763.9 1310.5h-6.6M92.8 1305h6.6M763.9 1305h-6.6M92.8 1300.3h6.6M763.9 1300.3h-6.6M92.8 1296.3h6.6M763.9 1296.3h-6.6M92.8 1292.7h6.6M763.9 1292.7h-6.6M92.8 1289.5h13M763.9 1289.5h-13M92.8 1268.5h6.6M763.9 1268.5h-6.6" stroke="#000" stroke-width="1.6" fill="none"/>
<g font-family="'Liberation Sans', Arial, sans-serif" font-size="14" fill="#000">
<text x="87.4" y="1295.5" text-anchor="end">100.00</text>
<text x="87.4" y="1365.3" text-anchor="end">10.00</text>
<text x="87.4" y="1435.1" text-anchor="end">1.00</text>
<text x="87.4" y="1504.9" text-anchor="end">0.10</text>
<text x="85.4" y="1570.2" text-anchor="end">0.01</text>
<text x="92.9" y="1586.3" text-anchor="middle">10</text>
<text x="193.9" y="1586.3" text-anchor="middle">20</text>
<text x="253" y="1586.3" text-anchor="middle">30</text>
<text x="294.9" y="1586.3" text-anchor="middle">40</text>
<text x="428.4" y="1586.3" text-anchor="middle">100</text>
<text x="529.4" y="1586.3" text-anchor="middle">200</text>
<text x="588.5" y="1586.3" text-anchor="middle">300</text>
<text x="630.4" y="1586.3" text-anchor="middle">400</text>
<text x="763.9" y="1586.3" text-anchor="middle">1000</text>
</g>
<text x="346.1" y="1627.3" font-family="'Liberation Sans', Arial, sans-serif" font-size="20.9">Harmonic Degree</text>
<text transform="translate(31.4 1475.3) rotate(-90)" font-family="'Liberation Sans', Arial, sans-serif" font-size="20.8">Velocity (m/s)</text>
<g fill="none">
<path d="M165.2 1391.1H200.5" stroke="#000000" stroke-width="2.1"/>
<path d="M165.2 1405.4H200.5" stroke="#003468" stroke-width="1.7"/>
<path d="M165.2 1419.7H200.5" stroke="#1e9e3c" stroke-width="1.9"/>
<path d="M165.2 1434H200.5" stroke="#b82814" stroke-width="1.9"/>
</g>
<g font-family="'Liberation Sans', Arial, sans-serif" font-size="14">
<text x="209" y="1394.9">0.25 Mm</text>
<text x="209" y="1409.1">5 Mm</text>
<text x="209" y="1423.3">15 Mm</text>
<text x="209" y="1437.5">30 Mm</text>
</g>
</svg></body></html>
